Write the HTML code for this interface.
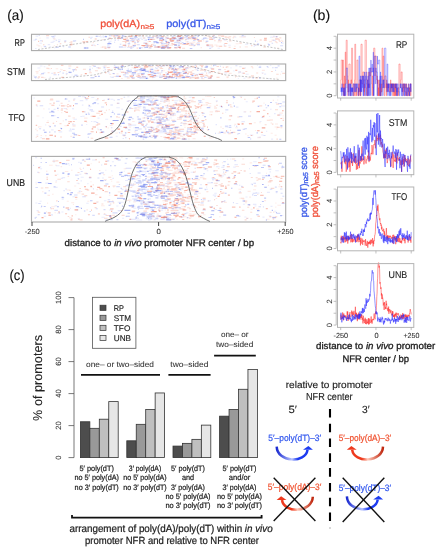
<!DOCTYPE html>
<html><head><meta charset="utf-8"><style>html,body{margin:0;padding:0;background:#fff;}svg{display:block;font-family:"Liberation Sans",sans-serif;text-rendering:geometricPrecision;filter:blur(0.25px);}</style></head><body>
<svg width="441" height="550" viewBox="0 0 441 550" font-family="Liberation Sans, sans-serif">
<rect width="441" height="550" fill="#fff"/>
<text x="7.30" y="19.50" font-size="14.4" fill="#111" stroke="#111" stroke-width="0.1" textLength="16.50" lengthAdjust="spacingAndGlyphs" >(a)</text>
<text x="312.90" y="19.70" font-size="14.4" fill="#111" stroke="#111" stroke-width="0.1" textLength="17.30" lengthAdjust="spacingAndGlyphs" >(b)</text>
<text x="9.50" y="279.50" font-size="14.4" fill="#111" stroke="#111" stroke-width="0.1" textLength="15.20" lengthAdjust="spacingAndGlyphs" >(c)</text>
<text x="14.60" y="45.90" font-size="9.9" fill="#222" stroke="#222" stroke-width="0.2" textLength="10.20" lengthAdjust="spacingAndGlyphs" >RP</text>
<text x="7.00" y="75.00" font-size="9.9" fill="#222" stroke="#222" stroke-width="0.2" textLength="18.00" lengthAdjust="spacingAndGlyphs" >STM</text>
<text x="8.60" y="120.70" font-size="9.9" fill="#222" stroke="#222" stroke-width="0.2" textLength="16.40" lengthAdjust="spacingAndGlyphs" >TFO</text>
<text x="6.60" y="186.40" font-size="9.9" fill="#222" stroke="#222" stroke-width="0.2" textLength="18.40" lengthAdjust="spacingAndGlyphs" >UNB</text>
<text x="100.20" y="26.80" font-size="10.2" fill="#f0503a" stroke="#f0503a" stroke-width="0.29" textLength="39.80" lengthAdjust="spacingAndGlyphs" >poly(dA)</text>
<text x="140.60" y="28.60" font-size="7.0" fill="#f0503a" stroke="#f0503a" stroke-width="0.24" textLength="13.60" lengthAdjust="spacingAndGlyphs" >n≥5</text>
<text x="166.20" y="26.80" font-size="10.2" fill="#3a5ae8" stroke="#3a5ae8" stroke-width="0.29" textLength="40.10" lengthAdjust="spacingAndGlyphs" >poly(dT)</text>
<text x="206.60" y="28.60" font-size="7.0" fill="#3a5ae8" stroke="#3a5ae8" stroke-width="0.24" textLength="13.60" lengthAdjust="spacingAndGlyphs" >n≥5</text>
<path d="M239.4 36.9h2M176.9 40.6h2.5M172.7 44.4h3M123.0 38.6h3M177.6 41.4h1M268.9 41.6h3M185.4 41.9h3M272.1 37.3h2.5M191.2 36.1h2M186.1 36.2h2.5M69.2 42.5h3M222.2 39.3h2M191.7 43.5h2M234.2 46.2h1.5M271.4 40.1h2.5M83.6 43.6h1.5M152.5 44.0h1M148.4 45.2h2M213.8 37.6h1M196.9 40.0h1M37.9 45.9h2.5M39.5 38.1h1M165.6 42.3h1M143.4 43.4h3M242.7 37.1h3M130.7 39.5h2.5M100.5 47.3h2.5M207.7 36.5h1M99.8 35.5h1M233.1 36.4h2.5M36.3 45.0h2M133.8 39.9h1M275.9 42.6h2M41.1 47.0h1M108.6 38.4h3M216.1 46.1h3M172.2 43.6h2.5M219.7 42.0h1.5M195.5 44.5h1.5M277.2 47.8h1.5M281.2 40.4h1M254.4 44.7h2M203.0 40.7h1M242.4 36.9h2M264.0 45.4h1.5M235.7 43.7h3M154.0 47.4h3M169.6 38.5h1M124.6 46.1h2M126.8 39.8h2M244.8 46.9h3M53.8 45.6h1M228.2 38.4h2.5M207.3 36.8h2M129.6 38.3h1.5M102.2 39.5h2M151.4 38.4h1M217.4 42.0h2M256.8 41.8h1M136.4 44.7h2M224.5 40.0h2.5M116.1 35.8h2M149.3 48.0h1.5M200.5 47.6h1.5M164.7 36.6h1.5M189.5 37.3h2.5M138.6 40.6h1.5M193.4 39.5h4M159.7 46.0h2.5M146.0 46.4h3M195.8 43.6h4M192.3 42.1h3M214.3 45.0h3M147.3 41.8h1.5M204.5 35.8h4M184.3 43.8h2M166.7 43.5h3M169.0 45.2h4M157.6 37.2h1.5M159.1 47.5h1.5M179.9 43.7h2.5M126.3 36.6h4M197.7 39.5h2" stroke="#ee5a3c" stroke-opacity="0.13" stroke-width="1.1"/>
<path d="M113.5 37.3h2M41.9 41.1h1M92.7 42.6h1M190.3 43.1h1.5M56.9 44.8h1M70.5 41.8h2M185.1 39.5h1.5M205.3 42.2h2M278.9 41.2h2M152.7 39.4h2.5M152.3 44.5h1M279.3 37.9h2M239.5 47.0h1.5M250.9 45.6h1.5M226.7 37.3h2.5M228.7 36.7h2.5M159.5 42.8h2.5M263.4 47.2h2.5M228.6 47.2h2M253.9 37.5h1M171.1 41.2h2M160.7 36.2h3M232.6 37.7h1.5M264.4 38.9h2M275.0 38.8h2M275.3 39.4h2.5M182.3 44.5h2M53.5 39.0h2M94.6 45.6h1M69.9 44.9h2.5M239.3 43.1h2.5M154.9 35.3h3M91.2 45.4h1.5M275.8 36.6h1.5M228.9 41.0h2.5M171.9 40.5h2.5M281.8 41.3h1.5M118.1 36.5h2M64.0 42.0h2M274.8 41.8h2M275.8 38.6h3M88.5 37.3h1.5M156.5 38.0h1.5M59.8 43.6h1.5M46.1 35.6h3M209.1 45.0h4M165.4 37.8h1.5M145.8 44.1h2.5M218.0 40.8h4M194.2 45.2h1.5M188.8 45.2h4M127.8 46.5h1.5M164.8 46.1h3M111.0 35.8h2.5M182.1 48.2h3M129.7 46.8h2.5M193.2 38.2h2.5M139.4 35.5h1.5M185.7 43.8h3M177.0 40.8h2.5M154.4 46.8h4M166.0 45.0h3M137.1 41.4h2M211.5 46.3h2M214.1 40.7h1.5M189.4 36.9h4M218.0 35.8h3M137.3 35.6h1.5M180.2 43.8h1.5M147.4 45.8h4M161.6 45.4h3M223.9 46.1h2.5M196.3 38.1h1.5M154.7 36.8h2M132.2 45.2h2M178.6 38.3h2M169.3 38.5h3M178.2 46.9h3M134.1 43.9h2M142.7 38.0h2.5M142.7 46.1h2.5M191.1 35.9h3M130.8 35.4h1.5M173.6 44.5h2.5M188.7 38.8h4M102.1 47.0h4M148.6 47.0h3M122.3 41.5h2.5M125.5 38.1h2.5M169.2 39.9h2M172.6 44.5h4M136.6 48.1h1.5" stroke="#ee5a3c" stroke-opacity="0.22" stroke-width="1.1"/>
<path d="M178.3 47.4h2M104.5 48.3h2M38.1 41.4h1M224.7 37.0h2M70.4 44.1h2M117.6 36.0h3M259.7 40.0h2M82.5 41.9h3M151.0 44.9h1M94.7 39.0h2M43.3 44.7h1M233.6 48.5h2M278.3 39.9h1.5M260.2 45.3h1.5M224.4 43.5h3M148.8 41.5h2M136.6 40.3h1M128.3 45.2h1M194.0 39.3h2.5M107.6 47.8h2.5M264.0 38.3h3M188.0 37.6h1.5M113.1 36.0h2M169.3 47.5h2M109.4 38.4h1.5M179.1 40.4h1.5M219.2 46.2h3M209.2 37.9h3M142.5 35.8h1.5M157.4 47.1h1.5M167.1 38.4h2M86.0 41.6h2M174.4 47.9h3M209.2 39.5h4M221.2 36.1h3M171.3 43.8h1.5M161.0 47.6h2.5M131.8 41.6h2.5M183.9 44.3h4M152.3 36.7h1.5M164.6 45.9h2.5M263.8 40.1h3M182.4 37.1h1.5M212.7 35.3h2M145.2 43.6h2M192.7 38.6h2.5M177.7 35.5h4M173.3 38.4h2M124.9 42.7h1.5M124.8 41.1h4M161.4 36.8h2.5" stroke="#ee5a3c" stroke-opacity="0.34" stroke-width="1.1"/>
<path d="M167.1 48.0h4M171.7 37.9h4M149.9 39.5h2.5M123.3 39.5h3M206.4 45.1h2.5M179.6 38.7h4M169.9 40.9h4M159.2 40.2h2.5M166.1 42.2h3M162.2 47.8h4M117.1 38.2h4M197.9 41.0h4M141.4 45.5h4M177.1 36.5h4M179.3 47.9h1.5M157.9 46.9h2.5M162.4 39.5h1.5M134.8 35.5h2.5M161.1 40.7h2M122.7 45.2h3M187.4 43.7h2M129.7 36.2h2.5M150.2 46.2h2.5M169.6 39.1h2" stroke="#ee5a3c" stroke-opacity="0.5" stroke-width="1.1"/>
<path d="M50.6 42.4h3M178.0 43.8h2M227.0 41.5h1M207.4 38.5h1M163.9 46.9h2M160.6 37.5h3M47.7 44.6h2.5M103.7 40.4h2M132.1 47.5h2M52.7 41.3h2.5M253.5 46.2h1.5M153.8 43.1h1M103.0 37.2h1M132.1 40.5h2.5M58.1 39.9h2.5M206.7 38.8h1M165.8 45.7h2.5M144.4 47.8h1M241.3 36.9h1M228.2 45.3h2.5M54.2 47.9h1M39.4 43.2h2.5M234.3 37.2h2M164.3 47.7h1.5M241.2 36.1h2.5M139.7 38.1h2.5M267.6 43.9h1.5M117.3 37.9h2.5M100.2 37.0h2.5M245.1 44.3h3M49.2 46.8h2M165.4 38.0h3M157.6 37.7h2M161.2 38.6h2.5M196.8 42.6h3M140.3 36.0h2M250.3 44.2h1M33.4 40.1h2.5M98.6 36.5h2M179.3 40.5h1M43.5 46.4h2.5M53.8 35.9h2M217.6 48.3h2.5M244.1 36.3h2M51.9 37.3h3M35.6 36.1h2.5M270.9 37.1h1.5M242.7 35.3h1.5M210.9 47.3h2M95.9 36.2h3M107.0 45.1h2.5M134.1 38.5h2M193.4 36.3h2.5M170.2 41.3h2M157.1 42.9h2M132.5 41.2h1M130.5 47.6h2.5M189.2 42.3h1M46.3 37.9h2.5M52.8 38.3h1.5M206.6 44.9h1.5M269.9 37.2h1.5M134.0 39.7h4M176.2 41.1h1.5M126.9 47.5h4M171.7 35.8h4M159.1 39.7h1.5M154.0 36.2h4M175.5 36.4h1.5M109.6 41.2h2M143.8 40.3h2M181.1 39.6h1.5M186.9 38.4h4M176.2 47.5h4M97.6 40.3h2M143.1 38.0h2.5M154.5 47.3h4M154.4 47.2h2M137.1 41.1h1.5M184.8 40.3h1.5M150.9 39.5h2.5M167.1 45.7h1.5M123.0 47.2h3M121.3 38.0h2M159.3 38.8h2M91.8 45.1h3M160.5 42.4h3M90.4 37.2h2.5M164.6 39.3h2M179.5 41.5h2M176.7 46.7h1.5M131.2 46.2h4M206.7 46.1h4M148.5 38.7h2" stroke="#4a60e8" stroke-opacity="0.13" stroke-width="1.1"/>
<path d="M44.2 46.7h2M187.4 41.9h1M273.2 36.3h1.5M117.6 40.0h1.5M209.2 48.4h2M146.8 46.9h1M174.3 42.4h3M186.1 37.3h1.5M271.6 43.3h1.5M63.2 46.6h1M280.1 45.8h3M58.1 41.6h2M223.6 39.6h2M114.1 42.2h1M87.4 48.0h1M55.6 40.2h1.5M128.7 42.2h1M134.1 42.4h2M35.4 48.5h1M59.1 46.2h2M241.9 35.5h1.5M223.7 44.9h1M272.6 40.3h3M201.6 39.2h2M105.0 36.3h1.5M51.2 36.5h3M157.1 47.0h2.5M282.4 43.1h1M102.7 36.0h1M191.4 37.3h3M141.6 39.5h1M212.5 36.0h2.5M75.2 40.8h1M254.5 45.3h2M35.1 39.3h2M39.8 40.8h2.5M203.3 37.9h2M90.2 38.2h1.5M106.7 47.1h4M196.3 35.7h2M211.7 38.7h3M137.4 44.8h2.5M153.2 45.4h2.5M108.9 35.6h1.5M122.0 36.4h4M130.1 48.3h2M119.8 44.3h1.5M177.3 36.9h3M133.9 37.8h4M176.2 42.6h4M167.7 44.5h1.5M148.6 48.0h3M129.5 40.8h2.5M163.8 43.6h3M179.9 38.3h2M183.6 37.7h2.5M110.0 35.8h1.5M181.6 42.6h2M143.5 43.0h2.5M159.4 37.7h2M122.3 35.8h2M193.2 45.6h2M213.6 37.5h2.5M185.9 39.0h3M174.1 47.5h2M160.5 47.8h1.5M114.5 40.1h1.5M193.0 40.5h2.5M145.7 43.0h1.5M190.6 44.1h2M160.9 37.3h2.5M159.4 35.6h2.5M145.5 40.1h1.5M138.7 47.8h4M131.5 40.0h2.5M154.4 45.7h1.5M191.2 44.8h3M108.2 42.3h2M108.1 38.2h2M175.2 38.4h2M143.8 47.4h2M157.8 35.9h2M124.8 45.1h1.5M166.1 38.0h2.5M147.9 39.6h2" stroke="#4a60e8" stroke-opacity="0.22" stroke-width="1.1"/>
<path d="M137.4 42.5h1M83.8 48.0h2M97.3 44.5h1M254.9 41.1h1M257.1 44.1h2M205.8 41.3h2.5M159.5 38.6h2.5M68.3 47.0h2.5M72.9 41.0h2.5M275.6 36.7h2M83.0 39.4h1M147.5 37.4h2.5M121.7 35.3h1.5M197.0 44.8h3M197.5 36.2h1.5M95.6 36.3h2M281.0 42.6h1M38.7 35.3h1M145.3 45.3h3M55.7 47.2h3M64.3 41.0h2M268.1 44.9h2M218.4 39.7h2M176.3 40.0h4M205.1 38.1h1.5M114.3 35.7h4M174.1 38.9h1.5M160.2 38.6h3M149.8 37.8h4M133.0 45.6h3M168.0 42.6h2M165.8 47.0h3M137.9 39.1h1.5M171.8 37.0h2M126.3 40.4h2.5M129.8 38.4h4M165.1 41.0h1.5M189.8 48.5h2.5M160.9 48.4h4M118.9 47.0h4M156.4 37.7h2M203.1 38.7h1.5M161.0 43.8h2.5M127.7 43.8h2.5M178.5 38.8h2.5M145.5 47.4h2.5M166.7 47.7h3M171.6 39.1h3" stroke="#4a60e8" stroke-opacity="0.34" stroke-width="1.1"/>
<path d="M84.3 48.0h4M153.4 41.9h4M174.2 45.1h3M104.6 36.7h2.5M183.3 43.5h2.5M120.6 38.0h2.5M180.2 37.9h2.5M156.1 42.6h2.5M165.6 41.8h1.5M185.4 36.0h2.5M107.4 43.6h4M162.9 40.0h1.5M134.4 36.7h2.5M178.2 45.3h1.5M197.2 39.6h1.5M139.0 48.3h2M147.8 39.4h1.5M161.6 46.8h3M192.1 38.0h4" stroke="#4a60e8" stroke-opacity="0.5" stroke-width="1.1"/>
<rect x="31.5" y="34.3" width="254.2" height="16.3" fill="none" stroke="#ababab" stroke-width="1.1"/>
<path d="M37.4 77.6h2.5M120.2 66.3h2M168.0 68.1h2.5M236.4 76.5h1.5M226.8 77.7h1M262.2 73.5h1M187.9 68.4h1M60.8 69.7h2M184.1 69.7h3M280.0 74.2h1M136.8 74.1h2.5M99.7 73.6h1.5M137.1 75.7h2.5M113.5 76.5h2.5M157.8 73.8h3M75.2 69.3h1M239.2 72.0h2M190.4 72.1h2M158.8 67.6h3M120.9 78.5h2M205.6 65.1h1M109.2 74.4h2M261.9 70.4h3M179.2 74.1h2M250.5 77.2h2M176.2 70.6h1M68.9 72.1h1M238.4 73.3h1M74.9 68.6h1M247.5 77.9h2.5M43.5 77.7h2M116.5 73.9h2M138.2 77.4h1M91.8 65.5h2.5M117.9 67.1h1.5M55.7 68.7h2.5M171.4 71.4h1.5M106.9 71.5h1.5M89.4 71.2h1.5M179.5 70.0h1M133.6 71.9h2M39.7 74.8h2M206.3 75.6h2M112.8 74.0h2M210.8 65.6h1M257.9 76.9h1M139.7 72.0h1.5M168.6 68.4h1M74.5 69.7h1.5M65.9 74.6h1M35.6 71.6h3M47.6 68.8h3M60.2 69.2h1M38.8 70.4h1M218.2 69.4h2.5M194.5 69.8h2M191.8 70.5h2M161.8 70.8h3M276.3 78.1h1M66.1 71.8h1M147.6 74.3h1M133.7 65.6h2M36.3 73.1h2M139.1 77.1h1M233.7 75.0h2M224.0 69.5h2M131.5 67.7h4M185.2 75.8h2.5M164.1 76.9h3M152.8 72.8h2M196.5 77.0h2.5M179.7 76.9h4M202.4 75.2h4M138.9 77.2h2.5M155.6 65.2h4M217.9 72.1h2.5M163.2 76.6h2M139.5 71.8h2.5M104.2 65.9h2.5M201.5 78.6h3M188.2 67.8h3M193.3 67.1h4M109.2 69.9h2M159.7 77.5h3M136.2 75.2h2M228.7 73.4h3M151.8 77.7h1.5M154.6 70.3h3M170.2 67.9h2M191.8 73.5h2M141.7 70.2h1.5" stroke="#ee5a3c" stroke-opacity="0.13" stroke-width="1.1"/>
<path d="M95.2 76.1h1M179.1 75.4h1M63.0 70.5h2.5M206.1 73.1h1M94.9 70.7h3M123.7 72.2h2M235.0 77.0h1M252.3 67.9h1M216.5 66.5h2.5M132.0 78.5h2.5M145.9 65.1h2.5M205.5 75.2h2M47.6 72.7h2M46.2 68.2h2.5M38.1 76.8h2M75.9 69.9h1M126.8 78.0h3M250.8 66.7h2M110.3 70.3h1M80.7 74.8h1.5M226.4 77.0h2.5M190.0 77.8h1M276.2 74.3h2.5M282.2 73.4h3M159.8 74.2h1M82.9 69.2h3M106.6 67.5h3M183.3 73.5h2.5M245.3 71.5h2M68.3 66.0h3M48.2 65.1h2M270.9 71.5h2M97.8 68.1h3M89.2 72.8h2.5M216.5 77.4h3M189.3 78.1h2M226.4 66.9h2M147.5 66.6h1.5M57.4 72.5h2M41.0 77.4h2.5M51.0 68.5h1M250.9 75.9h3M130.9 76.9h2M256.2 73.0h2M181.5 69.6h4M174.3 69.9h4M147.7 74.5h2.5M202.5 69.9h4M147.5 74.7h1.5M209.7 77.0h1.5M166.2 77.1h3M137.9 75.5h2M175.9 73.0h2.5M176.9 68.8h2.5M166.4 65.8h3M162.3 65.4h3M130.0 76.7h2M192.2 67.1h1.5M175.7 72.5h2M127.2 72.2h3M190.8 66.4h3M218.5 73.5h2.5M207.2 76.7h2.5M199.6 65.4h4M173.1 69.8h1.5M167.4 71.5h1.5M144.5 66.9h3M156.8 71.0h2M149.3 66.8h4M156.6 65.9h1.5M138.0 76.4h3M162.6 74.6h2.5M183.3 68.6h2.5M195.3 75.1h2.5M199.9 70.2h4M124.6 73.4h1.5M134.9 71.2h2.5M191.6 77.6h3M141.8 76.7h1.5M188.1 72.1h4M209.3 72.4h2M154.3 71.0h4M160.7 66.7h1.5M160.2 68.5h3M157.9 65.9h1.5M170.1 72.8h1.5M135.9 76.5h4M185.4 67.5h2.5M143.5 77.0h2.5" stroke="#ee5a3c" stroke-opacity="0.22" stroke-width="1.1"/>
<path d="M163.3 74.6h2M113.7 67.7h2M53.6 73.0h2M242.6 73.3h2.5M149.8 69.2h1M225.7 67.2h1M255.5 78.0h2M61.3 77.4h2.5M76.2 67.2h2M222.8 67.3h1M104.9 72.6h1.5M195.9 66.1h1M242.1 68.4h2.5M107.4 69.7h2.5M60.9 65.3h2.5M138.1 67.0h2.5M143.9 66.9h4M208.3 78.1h3M173.9 76.1h3M143.3 68.7h2.5M224.6 71.6h4M171.1 69.3h2.5M210.7 71.5h4M194.4 75.6h1.5M120.9 72.2h3M221.5 74.0h1.5M176.8 76.6h4M167.0 73.6h2M169.0 67.7h1.5M163.1 78.5h2.5M177.3 72.6h2.5M200.2 76.2h4M162.8 76.2h4M141.0 74.6h2.5M201.0 66.8h2M157.2 70.2h2" stroke="#ee5a3c" stroke-opacity="0.34" stroke-width="1.1"/>
<path d="M169.0 76.9h4M129.5 76.0h4M148.4 74.8h3M194.8 78.2h1.5M119.0 76.4h2M184.6 72.4h2.5M121.8 65.3h1.5M153.5 75.6h2.5M169.2 76.4h1.5M190.2 74.3h2.5M84.8 73.6h2M210.2 77.3h1.5M235.3 70.3h2M172.2 74.2h3M185.2 77.3h4M194.7 78.0h4M173.6 74.3h4M173.7 73.7h1.5M198.9 74.5h4M174.9 68.8h1.5M210.6 75.9h2M149.6 71.4h1.5M149.6 76.6h4M211.2 69.0h3M171.8 74.9h1.5M169.9 72.1h3M143.4 65.0h3M227.3 71.1h2M187.2 73.7h1.5M134.0 67.4h4M179.4 75.2h4M168.0 72.4h4M183.5 69.6h1.5M182.2 66.8h2" stroke="#ee5a3c" stroke-opacity="0.5" stroke-width="1.1"/>
<path d="M43.8 66.7h1.5M69.3 72.8h2.5M131.5 77.8h2M117.2 68.3h1M113.8 67.0h2.5M88.9 70.7h2M142.6 72.0h3M261.6 72.9h2M195.2 67.7h1.5M147.8 72.5h2M73.1 77.9h1M171.8 71.7h3M201.5 73.4h1M224.1 73.0h3M127.5 71.2h1.5M130.2 72.6h3M233.4 70.9h1M178.0 66.2h2M44.4 72.7h1M107.5 72.3h2M167.2 78.6h2.5M130.0 69.9h2M163.9 66.3h1M237.8 78.5h1M39.8 66.0h2.5M195.2 74.3h1.5M119.8 71.1h1M37.4 68.0h3M178.3 78.1h3M108.5 73.2h1M201.4 73.0h2M109.9 76.9h1M268.2 78.6h1M168.3 68.7h1M49.5 77.4h1.5M89.2 66.7h2M103.1 70.5h1M266.9 67.4h2M202.5 74.0h1M256.9 65.3h1M259.2 66.3h2M184.8 70.9h3M71.6 75.0h1M264.1 74.1h2M230.5 67.9h1M102.8 66.2h2.5M143.2 69.6h3M155.0 67.6h1M204.2 71.6h2M92.0 68.3h1M116.0 76.1h3M240.5 66.6h1M35.2 78.5h1M154.7 75.7h2M189.6 77.7h2.5M42.8 72.7h2M138.3 74.9h1.5M33.5 75.9h1M174.5 71.4h3M184.9 69.0h2M165.1 72.7h2.5M169.6 66.5h2M209.9 68.1h2.5M245.6 74.2h3M239.1 66.7h1.5M160.9 72.1h1M96.2 67.6h3M37.8 78.4h1M171.2 68.9h3M241.7 73.0h2M167.2 74.4h1.5M269.9 65.2h1.5M281.3 71.6h1M51.2 73.4h2M243.4 78.2h2M122.8 72.2h1M166.0 74.9h1.5M133.6 68.4h2.5M159.1 75.8h1.5M169.6 67.8h4M187.2 67.0h4M153.1 74.0h3M172.7 72.2h3M158.5 76.1h4M141.7 70.1h2.5M140.0 68.8h4M74.6 75.8h4M197.5 78.0h2M155.8 75.6h1.5M137.5 73.5h2.5M139.6 78.5h1.5M150.2 72.3h3M141.6 74.1h3M155.7 76.4h2M196.7 70.0h1.5M134.7 74.0h1.5M160.4 72.6h2M151.3 69.2h3M176.0 75.6h1.5M207.8 72.9h3M157.1 72.7h3M144.5 78.5h4M173.9 67.7h1.5M171.8 65.7h1.5M143.5 68.4h1.5" stroke="#4a60e8" stroke-opacity="0.13" stroke-width="1.1"/>
<path d="M73.6 76.2h1M211.5 76.5h1M141.0 77.9h3M116.0 67.6h1M275.1 70.4h1M161.9 76.3h2.5M238.0 72.0h3M135.8 66.4h3M104.6 69.8h1.5M127.7 69.1h1M196.6 69.0h1M76.3 75.5h1M68.5 68.2h2M111.3 77.2h2.5M277.6 65.9h2M173.0 66.6h1M175.2 74.7h2M266.6 66.5h1.5M220.0 66.2h1M65.8 73.7h2M53.5 74.8h3M59.7 71.6h1M34.6 77.5h1M124.7 72.5h3M235.4 65.8h2M244.7 68.0h1M205.5 67.0h2.5M274.7 67.6h3M173.4 77.5h1.5M74.5 75.1h3M122.9 74.9h3M120.4 66.9h3M218.2 69.6h3M131.5 74.1h3M160.3 77.2h2M140.1 70.4h4M169.9 77.6h2.5M137.2 77.5h2.5M146.3 77.2h1.5M155.7 68.2h2M140.8 68.3h2.5M159.7 66.0h4M113.9 65.1h1.5M129.1 65.4h1.5M157.0 73.3h1.5M115.7 76.4h4M137.0 69.7h4M164.4 78.3h2.5M193.2 73.9h1.5M181.5 67.0h2.5M178.8 67.8h2M167.8 77.3h2M165.3 65.4h1.5M204.1 77.4h2.5M124.5 76.7h4M197.2 68.3h2M149.9 65.1h3M139.5 77.7h2.5M159.0 77.4h2M126.1 70.6h2M152.4 77.2h3M207.7 78.2h4M173.2 66.0h3M200.8 77.9h2M149.9 71.2h4M181.1 77.0h4M185.5 68.3h2.5M196.6 74.9h1.5M197.1 70.5h1.5M125.6 73.8h3M134.3 70.2h4M168.1 69.8h2M175.4 74.0h2M198.6 74.0h3M144.4 77.9h2.5M173.0 70.6h2M121.4 66.2h1.5M148.1 65.6h3M157.5 66.8h1.5M130.9 77.7h4M141.8 76.5h4M145.8 78.4h1.5M120.7 66.2h2.5" stroke="#4a60e8" stroke-opacity="0.22" stroke-width="1.1"/>
<path d="M97.9 76.4h2M41.1 73.7h3M62.6 73.1h1M93.4 66.2h2.5M194.7 65.1h1M272.4 67.8h1M252.6 78.1h1M133.0 75.4h1M34.4 77.0h2.5M129.4 71.4h2.5M72.3 69.8h3M94.7 76.5h2M182.3 71.3h2M72.9 71.1h1M58.1 74.8h1M259.0 77.9h1.5M204.6 67.2h3M213.4 65.0h3M161.3 70.7h1.5M258.7 67.2h2.5M171.3 77.8h3M195.0 67.6h1M213.1 65.6h1M89.0 69.3h2M205.6 66.3h2.5M121.0 66.3h3M166.3 76.9h4M144.9 71.4h4M182.8 77.1h2.5M150.6 69.4h2.5M114.8 67.4h4M177.7 73.9h2.5M143.9 69.9h1.5M150.4 72.6h3M90.4 77.7h4M152.8 75.5h1.5M139.3 69.6h2.5M178.5 72.8h3M172.5 66.2h1.5M118.1 69.4h3M140.3 68.7h2M140.7 73.6h4M169.0 65.1h1.5M112.6 73.5h2M172.2 68.6h1.5M174.5 69.5h2.5M186.3 76.5h4M103.5 67.7h2" stroke="#4a60e8" stroke-opacity="0.34" stroke-width="1.1"/>
<path d="M146.0 78.5h1.5M181.8 77.8h3M151.4 75.0h1.5M191.5 75.6h2M127.5 71.0h2M153.6 73.3h3M142.8 69.8h2.5M173.5 72.3h3M68.5 72.2h3M164.4 78.2h2.5M175.7 78.1h1.5M132.1 72.8h4M166.6 74.2h2M182.8 73.3h4M169.7 66.1h2M179.5 66.8h4M176.7 75.2h1.5M141.5 70.4h4M121.5 69.1h1.5" stroke="#4a60e8" stroke-opacity="0.5" stroke-width="1.1"/>
<rect x="31.5" y="64.0" width="254.2" height="16.6" fill="none" stroke="#ababab" stroke-width="1.1"/>
<path d="M255.1 130.5h1M138.8 110.8h1M85.4 98.5h3M262.9 115.6h2M143.8 127.7h2.5M152.9 132.4h3M103.9 112.6h2M88.5 104.6h1M223.3 133.1h2.5M193.0 116.6h2.5M99.1 115.4h2M159.9 117.1h1.5M149.7 137.1h1M36.4 116.0h3M282.6 115.9h1M276.4 128.9h1M254.3 98.7h3M230.2 107.1h2.5M274.6 127.0h3.5M274.6 135.3h2M234.4 124.4h1.5M257.4 137.8h3M202.0 99.4h2.5M277.2 100.0h1M64.4 105.8h3.5M253.8 122.8h2M208.9 137.9h3.5M245.1 134.0h1.5M206.6 96.4h3M76.2 135.1h2.5M118.0 117.4h2M128.9 127.2h2M70.3 136.4h2M48.3 125.8h2M40.5 135.5h1.5M209.6 111.9h3.5M216.1 101.8h1M35.1 129.2h1.5M215.0 111.8h3M57.6 110.3h1M180.3 114.9h2.5M72.0 123.7h2M84.4 97.2h1M160.3 136.5h2M183.7 106.3h1M160.9 116.4h1M183.4 135.3h1.5M220.0 127.0h2M181.9 138.4h2.5M38.0 126.8h3.5M156.8 125.9h2.5M205.3 96.4h1M243.8 111.8h2.5M281.1 105.3h1M270.7 133.3h2M208.9 96.4h2.5M58.2 108.2h1M86.4 122.2h1M259.3 122.7h1.5M263.5 103.1h1M127.5 101.0h2M84.0 118.1h3.5M202.2 127.0h2.5M161.2 114.7h2.5M168.5 103.2h1.5M72.5 117.9h2.5M116.4 129.3h3M145.7 117.9h3M97.5 129.6h1.5M209.2 114.7h2M179.4 117.7h1M159.3 110.7h1M162.8 128.5h2M160.3 103.5h1M173.3 115.5h2.5M64.3 125.8h3M177.2 138.4h3.5M134.2 131.9h2M61.3 112.6h1M275.0 124.0h3M187.5 124.7h3.5M43.4 108.9h1M115.4 133.0h2.5M279.4 113.1h3.5M62.8 120.9h1M160.1 101.5h1.5M222.3 128.5h1.5M73.7 135.8h1M109.7 125.5h3M259.1 137.2h1.5M38.1 127.3h1M107.7 127.9h1M183.3 138.1h1M235.3 127.8h2.5M65.8 109.4h2M207.8 103.5h3.5M190.2 121.9h2M47.5 120.9h1M281.5 118.2h2.5M146.5 124.0h1.5M160.1 109.4h1.5M163.3 127.8h6M179.0 117.9h3M175.8 109.2h5M183.8 121.5h5M195.7 112.4h1.5M178.1 104.6h2.5M170.6 114.2h1.5M183.5 98.2h3M164.4 113.8h6M153.2 99.0h4M151.6 108.2h2M164.7 124.0h2M184.2 127.3h1.5M167.6 136.9h2M200.9 105.0h5M186.9 107.4h5M167.7 112.4h5M153.9 112.1h2M178.0 127.2h1.5M202.2 132.9h2.5M177.8 133.4h4M175.1 126.9h4M162.3 108.6h2M180.2 136.4h3M172.2 139.3h5M181.1 103.7h2.5M169.9 115.8h4M132.2 121.5h2.5M170.4 107.5h2M167.6 112.4h4M160.9 97.5h4M196.3 122.4h6M134.6 107.9h6M183.7 99.0h2M171.2 131.7h3M208.7 106.1h2.5M170.2 136.0h6M183.5 125.0h2M166.7 112.8h1.5M177.6 135.3h4M171.4 131.6h5M174.8 130.8h6M179.7 115.5h3M177.1 117.5h6M164.1 115.3h4M150.4 135.9h4M202.2 115.4h1.5M170.2 96.6h4M168.9 113.0h6M166.9 104.7h1.5M185.2 111.3h5M189.5 100.4h4M167.0 137.5h3M186.1 132.3h3M179.3 101.4h4M192.6 138.6h3M194.9 108.0h4" stroke="#ee5a3c" stroke-opacity="0.13" stroke-width="1.1"/>
<path d="M229.6 132.8h2.5M262.9 110.4h2.5M272.8 100.2h1M108.5 99.0h1.5M96.3 113.3h3.5M200.3 108.2h1M244.1 99.3h1.5M128.3 124.4h3M266.8 120.2h3.5M60.0 137.0h2M189.5 131.3h1M142.3 102.3h2.5M108.7 109.8h1M267.5 113.6h1M35.7 137.2h1M174.8 129.5h2M66.9 106.6h2M45.4 135.7h1M149.0 110.2h1M168.2 113.5h2M111.2 131.3h2M214.1 108.0h3M232.3 132.4h3M73.1 100.1h1.5M56.1 121.5h1M230.5 106.2h1M67.1 104.5h2M59.5 123.6h2M46.4 122.5h2.5M105.9 110.2h1M95.7 125.1h2.5M41.9 138.6h3M147.1 120.0h1M131.2 108.5h2M280.4 127.7h2M228.2 133.8h2.5M50.2 99.1h3M217.4 111.4h2.5M182.6 139.3h1.5M264.6 124.7h2M249.8 111.8h1.5M276.7 127.4h3M154.7 96.3h2.5M68.1 116.1h2.5M150.9 108.2h3M194.0 116.3h3M270.7 123.0h1M36.7 130.8h1M123.3 135.6h2M72.6 126.0h3M141.7 101.5h1.5M269.4 120.0h3.5M225.9 102.6h2M60.6 103.2h2M90.7 138.3h2.5M228.5 119.8h2.5M247.5 135.7h1M116.0 116.9h2M155.6 132.0h2.5M120.5 133.0h2M214.9 111.0h3.5M271.9 124.1h1.5M116.7 103.3h2M90.6 116.2h2.5M171.1 113.7h3M152.8 136.4h1.5M168.4 133.5h3M137.7 105.3h1M275.0 109.7h3M161.4 111.3h3.5M259.2 105.9h3M69.9 121.6h2M172.7 114.0h1M214.5 106.4h1M49.8 99.9h3.5M230.0 130.3h1M60.7 110.1h1M237.3 117.0h2M216.0 105.2h2M276.2 104.1h3M120.6 98.8h2M61.0 110.1h2M148.1 122.1h1.5M61.0 108.7h2M169.1 130.8h3M49.4 103.7h2M156.0 120.0h1.5M99.4 132.7h2M165.8 133.5h1M185.7 133.4h2.5M218.9 132.1h1M229.4 104.7h2M153.2 112.5h1M102.0 100.5h2.5M142.5 118.0h2.5M36.7 136.4h1.5M205.5 102.8h3M206.9 129.9h2M85.3 98.3h3.5M190.8 101.7h5M187.2 127.5h3M168.9 132.2h3M188.3 100.9h1.5M166.0 100.9h4M171.2 120.3h4M151.9 104.5h6M146.8 113.6h1.5M165.5 116.3h1.5M183.5 96.7h1.5M148.6 131.3h4M195.0 129.9h4M165.8 112.2h4M152.9 129.8h6M173.6 137.4h2M187.7 121.5h2M185.2 113.3h2M174.6 132.3h4M172.4 127.8h4M137.5 98.2h3M155.2 135.9h3M141.4 121.1h2.5M180.8 122.8h1.5M189.0 120.7h2.5M176.6 138.0h3M158.8 119.2h1.5M134.4 110.0h5M148.6 112.7h1.5M190.5 129.9h1.5M173.2 132.5h6M179.8 109.3h5M171.8 100.4h2M194.0 132.9h4M166.4 119.6h1.5M158.0 108.4h5M181.0 110.9h6M184.2 105.5h6M183.2 123.8h4M179.1 129.4h5M192.2 112.4h3M160.0 108.6h2.5M163.5 102.2h2M160.7 114.1h2.5M193.0 128.7h5M164.7 105.8h3M163.9 100.8h3M205.0 119.6h1.5M186.4 105.1h1.5M174.7 130.0h5M167.0 99.1h2.5M159.3 120.1h2.5M175.5 104.0h2M155.5 111.2h4M151.4 113.2h4M151.1 109.2h4M160.5 96.2h6M180.7 105.1h2.5M150.8 127.8h2.5M190.8 134.4h4M182.6 115.5h4M176.8 119.3h5M158.8 124.9h5M177.7 103.7h3M164.7 133.4h2.5M206.2 104.9h1.5" stroke="#ee5a3c" stroke-opacity="0.22" stroke-width="1.1"/>
<path d="M260.9 132.4h2M194.6 105.6h1M211.2 114.8h1M192.9 122.9h2M240.7 97.5h1M197.9 104.0h1.5M124.1 118.8h1M250.8 135.5h1.5M153.0 104.0h2M193.5 125.9h3M196.7 124.3h2.5M200.8 105.4h1.5M252.4 101.1h2.5M213.8 97.5h1M186.3 135.2h1.5M188.6 115.1h2M207.0 127.1h1M222.3 113.2h1M203.3 124.7h1.5M35.7 125.4h1.5M236.9 124.0h2.5M127.7 132.5h2.5M252.4 102.2h1M57.9 130.5h2.5M282.7 120.4h1M78.4 135.5h2M90.6 131.7h3M68.2 121.7h3.5M171.2 124.8h3.5M195.4 108.5h1M51.4 105.3h3M138.1 123.4h3.5M197.7 118.3h1M203.5 126.3h2M152.1 100.0h1M99.2 138.3h1M35.8 105.0h1.5M201.3 112.8h2M125.5 112.0h3M276.6 139.1h1M183.6 104.0h1M140.6 136.4h2M140.9 124.8h3M168.4 139.0h2M277.2 115.1h2.5M197.4 107.5h1.5M64.1 111.5h1.5M158.6 114.3h2M104.7 102.9h2M202.5 123.2h2M97.2 124.0h3M52.7 123.2h1.5M229.2 115.9h3M72.8 121.5h2M61.0 105.9h3.5M147.9 121.0h3M152.1 115.3h3M168.4 106.1h6M181.5 102.8h6M169.6 135.0h2.5M184.5 102.7h6M171.8 108.4h2.5M186.3 106.1h1.5M164.6 127.0h2M184.9 116.7h3M163.5 137.2h2.5M160.2 107.8h2M142.3 125.1h1.5M171.9 106.1h2M188.0 113.4h1.5M185.8 106.9h6M140.7 102.1h4M156.6 122.4h5M167.7 97.5h5M168.0 112.9h1.5M151.5 130.8h1.5M195.4 106.7h6M149.0 129.8h3M153.8 103.1h3M173.5 136.8h2M185.8 117.0h4M183.3 134.7h1.5M162.2 117.2h5M167.7 125.2h6M167.0 110.6h5M193.5 131.4h2.5M157.8 130.1h2M172.8 104.8h4M201.4 120.5h3M173.8 134.5h1.5M167.0 134.5h2M179.6 116.5h4" stroke="#ee5a3c" stroke-opacity="0.34" stroke-width="1.1"/>
<path d="M128.9 138.7h1M261.8 127.9h3.5M166.9 137.9h2.5M267.2 113.8h1M166.5 99.4h2M123.5 127.4h3.5M142.7 101.3h2M134.3 111.0h1M101.0 114.2h2M104.8 138.0h3.5M117.6 129.1h2.5M241.6 123.9h2M37.3 101.1h3M183.9 138.9h1.5M148.0 104.7h3M226.5 100.8h1M54.5 136.1h1.5M92.5 127.0h3.5M153.6 114.2h3.5M280.6 118.5h1M155.4 128.7h2M68.4 123.5h1.5M226.1 130.9h1M100.7 132.4h2M282.1 110.7h1.5M73.0 105.6h1M150.6 118.2h1M257.1 130.8h2.5M156.5 111.9h3M69.3 106.0h2M53.5 103.1h1M81.9 111.7h2.5M165.2 125.6h2.5M45.9 138.9h3.5M97.4 98.8h1M105.8 126.9h1M221.0 106.4h1M203.7 136.2h2M188.4 124.4h3.5M91.7 128.9h1.5M256.5 111.6h3.5M92.6 116.4h3M248.9 123.7h3M168.6 108.9h3.5M150.7 127.3h1M256.8 98.1h1M84.3 121.2h2.5M106.0 104.8h1M110.2 133.8h2M49.4 135.3h3.5M66.9 125.3h2M88.1 96.4h1M238.2 124.4h1.5M111.1 123.6h2.5M65.5 112.3h2.5M262.3 116.6h2M120.9 131.3h2M98.5 111.3h3.5M96.0 132.1h1M143.7 134.6h1M234.4 138.6h2.5M176.2 105.0h5M192.1 97.7h2.5M183.3 108.0h2M161.5 127.1h1.5M179.8 105.4h6M168.7 134.5h1.5M193.5 126.9h2.5M156.0 131.3h2.5M177.6 109.9h1.5M171.4 96.7h6M151.1 122.1h2.5M195.4 120.3h2M144.2 132.2h5M180.8 103.2h2.5M177.6 133.9h2.5M199.8 130.1h2.5M178.0 107.3h1.5M187.5 136.1h4M169.8 114.3h1.5M177.2 108.3h1.5M196.4 127.4h4M163.2 97.8h6M195.2 123.7h3M166.7 126.2h2.5M174.1 108.0h2M190.0 127.5h3M165.6 137.6h4" stroke="#ee5a3c" stroke-opacity="0.5" stroke-width="1.1"/>
<path d="M232.9 98.6h1.5M58.7 131.9h3.5M280.1 103.8h1.5M68.1 101.1h2M194.7 118.2h1.5M72.0 124.7h3.5M48.0 109.0h2M245.8 101.8h2M45.2 124.9h1M91.3 97.5h3M154.5 100.9h1M166.9 106.3h1M68.8 130.9h3M217.7 133.2h3M239.7 96.2h2.5M138.3 99.7h2M193.5 114.0h2.5M127.6 117.6h2.5M82.1 96.8h2.5M275.2 102.6h2M115.8 136.3h2M110.4 99.3h3M231.1 115.7h1M87.8 108.8h1M225.5 131.9h3M225.2 112.3h1M227.6 127.5h1M141.9 99.9h2M73.5 119.2h3.5M97.4 128.2h1M150.8 137.5h2.5M257.5 137.3h3.5M270.1 109.2h1.5M235.9 107.1h2.5M269.2 116.5h1M82.1 116.2h2.5M199.7 102.4h3M219.7 106.4h2M249.8 135.0h3.5M281.8 106.0h3.5M158.7 104.1h1.5M90.8 111.4h3.5M216.2 110.7h1M120.0 119.2h2M192.4 116.8h2M101.5 110.6h1M42.5 117.7h1M145.5 134.3h1.5M193.3 120.4h2.5M259.5 121.5h2M184.2 115.0h3.5M52.9 115.6h2.5M86.2 124.5h1M146.6 133.5h2M97.5 118.1h2M151.1 130.1h2M234.1 125.7h1M261.4 135.0h2M57.2 117.7h2M73.1 134.5h2M63.5 108.5h3.5M271.1 139.1h2M241.4 121.6h3.5M51.1 129.9h2.5M116.3 107.7h3.5M88.2 113.5h1M128.2 125.6h3.5M266.2 131.4h1M64.3 99.1h3.5M33.4 98.0h1.5M53.6 109.4h2M278.5 114.9h3M191.4 126.2h1M154.5 112.2h1M159.9 101.0h3.5M127.4 96.7h2M90.9 121.5h1.5M36.4 106.1h1.5M93.4 121.6h3M191.0 118.7h3.5M104.9 126.5h2M87.7 112.9h1.5M103.6 99.8h1M243.5 112.0h2.5M198.8 115.5h1M97.1 103.6h2M203.2 125.4h1M105.2 119.3h3M174.3 128.7h1.5M36.4 134.7h2M132.9 103.1h3.5M79.8 100.6h3.5M75.6 134.9h1M81.9 105.1h1.5M95.7 99.9h2.5M88.3 106.7h3M277.3 96.8h2M141.6 97.1h3M148.3 130.4h6M188.8 97.3h3M147.8 113.3h2.5M147.6 118.8h1.5M168.4 124.1h2M133.6 108.2h3M137.9 136.7h2.5M156.1 114.2h6M121.2 109.3h2M128.5 100.5h2M143.0 108.1h3M168.9 118.0h3M143.0 134.8h3M188.2 139.0h1.5M153.3 122.6h2.5M174.0 100.7h4M137.1 104.3h1.5M158.8 109.7h3M163.9 132.7h5M150.7 102.9h1.5M150.5 113.3h6M138.1 106.8h1.5M169.8 138.9h5M163.7 121.0h2M139.6 136.0h6M171.8 131.1h2M127.8 123.5h2.5M164.4 99.5h4M165.4 110.7h1.5M138.3 100.6h1.5M161.3 101.2h6M144.8 136.3h3M172.3 139.1h2M141.6 123.6h2M158.6 130.3h4M137.5 106.5h4M144.9 137.4h4M138.2 103.8h6M148.2 101.5h1.5M157.4 123.6h5M168.8 132.2h2M175.5 134.6h5M146.8 101.5h5M157.0 131.4h5M178.6 100.1h4M139.9 97.5h3M156.0 127.1h3M130.3 101.7h2.5M151.1 128.1h3M134.9 133.5h4M154.2 117.9h3M164.0 139.0h2.5M174.7 133.9h6M158.2 132.8h6M153.8 138.5h2.5M135.4 98.0h1.5M160.4 99.1h3M148.1 98.1h6M180.1 123.2h6M145.0 138.3h2M157.4 109.1h1.5M138.7 121.0h2M156.1 116.6h4M130.2 125.1h6M133.5 127.7h4M151.9 103.7h4M174.4 102.6h2.5M168.9 110.1h2M178.9 106.5h2.5" stroke="#4a60e8" stroke-opacity="0.13" stroke-width="1.1"/>
<path d="M200.2 102.0h1M113.7 100.3h1M223.2 132.4h1M101.1 107.0h3M167.1 110.9h3.5M186.2 103.4h3.5M220.9 106.9h2M196.7 122.0h1M248.0 116.1h3M59.2 105.2h1M56.0 101.3h3.5M263.5 135.5h2M85.6 99.8h2M198.7 102.2h2.5M144.9 132.9h3M49.0 112.3h3.5M80.6 116.5h1M282.3 102.0h3.5M144.2 117.8h1M175.2 104.0h2M201.7 129.9h2M125.0 137.8h1.5M73.4 99.0h2M136.9 116.9h2M238.9 116.6h3.5M131.7 118.8h2M145.0 133.0h2M187.3 100.7h3M165.1 126.4h2M261.6 117.4h1.5M110.9 127.7h1.5M238.1 133.5h2M89.5 109.9h3.5M112.2 111.1h1M84.5 111.9h1M87.3 134.4h2.5M265.1 104.9h1M242.7 129.4h2.5M274.4 113.6h1M42.9 130.1h2M202.1 113.4h2.5M180.1 125.5h2M232.9 103.0h1M96.2 122.5h2M122.7 138.5h1M189.1 124.5h1M69.8 129.1h1M56.9 117.5h2M224.9 126.1h3.5M190.3 119.2h2M155.9 107.8h1M157.3 108.4h1M128.8 119.9h1M225.3 109.9h3M173.4 137.2h3M265.7 107.8h1.5M60.1 128.4h1.5M122.3 135.1h3.5M117.3 99.6h2.5M198.1 100.6h3.5M81.0 125.1h2M119.6 126.2h2M244.4 128.6h2.5M110.4 105.0h2.5M225.2 126.6h2.5M215.0 133.4h1M169.7 111.0h1M40.6 137.8h1M142.5 113.4h3.5M142.7 139.1h1.5M279.3 106.6h2M149.5 96.8h2M227.1 132.6h2M72.5 137.5h2.5M278.2 103.5h3.5M39.7 105.7h3.5M215.8 101.0h2M54.2 131.9h1.5M148.0 111.2h3M39.1 128.8h2M215.7 124.6h1M71.6 129.2h3M111.5 131.1h3.5M229.2 125.5h2M141.8 125.3h1M87.8 133.6h3.5M167.1 105.6h1M194.7 112.3h2.5M78.1 96.2h3M201.8 121.5h2M190.6 132.6h3.5M237.1 134.0h1.5M126.7 101.2h2.5M170.0 115.0h4M146.5 97.0h2M155.7 100.1h2.5M146.0 131.7h2.5M154.5 132.5h3M147.2 127.3h6M144.3 115.1h2.5M179.3 117.6h2.5M177.7 131.2h6M140.2 98.1h5M170.0 114.6h1.5M145.9 124.3h1.5M160.9 128.3h6M182.7 134.2h6M176.6 97.1h1.5M163.6 120.0h6M165.9 107.7h2.5M141.6 136.3h3M137.8 129.0h4M140.9 101.7h2.5M140.2 137.2h3M172.8 114.0h3M127.9 129.9h2.5M155.6 117.4h5M159.1 114.5h2.5M152.4 112.8h3M150.3 119.6h5M144.9 129.1h1.5M143.8 96.8h1.5M117.1 103.2h2.5M186.8 131.9h6M142.9 107.1h2.5M156.0 100.4h2.5M166.2 134.2h2.5M165.0 124.9h2.5M170.8 128.2h2M137.6 135.6h1.5M170.9 137.9h5M175.9 112.0h5M171.0 111.4h1.5M143.8 109.8h5M161.6 127.1h3M162.1 124.5h4M158.3 96.8h1.5M173.6 127.3h5M157.4 119.8h2M153.3 129.2h1.5M149.1 100.3h3M154.4 107.9h5M123.6 97.2h1.5M153.6 135.1h1.5M159.8 121.2h6M148.0 129.6h1.5M134.8 130.4h3M140.5 102.0h6M162.1 117.7h1.5M162.6 114.6h2M162.4 129.2h2M131.4 134.7h3" stroke="#4a60e8" stroke-opacity="0.22" stroke-width="1.1"/>
<path d="M143.0 126.7h2M73.3 137.1h1M124.9 128.0h2.5M173.3 133.8h2.5M247.7 137.5h2.5M137.6 119.1h3.5M141.6 121.8h1M188.7 116.6h3.5M150.0 115.8h2M176.9 111.6h1.5M124.9 132.9h1.5M206.8 107.6h3.5M279.3 139.2h2M228.9 127.2h2.5M74.8 103.7h3M236.2 126.2h1M118.9 132.7h1M231.1 132.6h2M270.0 102.5h2M186.7 131.0h1.5M113.9 113.9h1M73.9 134.8h3M175.1 127.7h3M111.6 112.5h2M72.1 133.3h3M193.9 132.4h3M122.7 122.3h1.5M49.3 132.1h1M87.8 137.2h1M146.3 99.9h3M256.5 132.9h1.5M183.1 120.4h3.5M117.2 114.2h3M200.6 128.3h3M72.5 108.8h1M250.2 139.0h1M109.5 137.2h3M128.0 119.6h3M88.6 105.6h1.5M135.5 136.4h1.5M52.5 112.1h2M148.6 105.0h5M129.3 108.1h2M153.2 136.1h4M146.8 116.2h6M181.7 139.1h5M159.1 120.7h2M159.7 110.4h2.5M140.2 96.7h2M154.3 137.7h2M154.5 100.5h3M140.2 136.7h1.5M143.0 110.2h1.5M187.0 129.0h5M170.2 106.9h1.5M135.0 127.6h4M158.3 119.0h3M150.1 102.0h6M145.7 131.6h6M162.5 131.2h4M145.2 125.8h1.5M138.5 104.7h2.5M142.9 121.1h2.5M172.2 121.4h4M172.5 121.7h2M163.5 111.1h1.5M163.6 129.9h2.5M142.5 112.6h1.5M166.7 128.6h6M164.2 98.0h2.5" stroke="#4a60e8" stroke-opacity="0.34" stroke-width="1.1"/>
<path d="M92.5 103.6h1M51.1 115.8h2.5M57.0 108.3h1.5M49.6 126.6h1M184.3 116.7h2M232.6 96.6h1.5M257.7 106.2h1.5M50.9 111.3h2.5M220.5 132.4h2.5M220.4 117.9h1M65.3 98.9h1M204.1 116.8h2M107.6 99.2h1.5M233.2 97.4h2M258.4 97.3h1.5M110.3 116.8h1.5M110.0 123.5h2M196.3 120.8h1M139.9 100.2h2.5M237.8 130.3h3M138.5 122.2h3.5M121.7 115.0h2.5M121.2 123.4h3.5M280.4 125.9h2M228.2 105.1h1M44.1 132.3h2.5M85.6 114.2h1.5M93.6 102.9h2.5M237.3 130.3h2.5M54.5 125.9h1M65.5 119.7h1M162.0 107.0h2M233.8 106.1h1M139.4 104.5h2.5M99.8 129.7h2M124.8 114.9h1M208.2 129.5h1M267.5 105.7h1.5M61.1 128.6h1M84.8 97.8h1M88.5 114.3h1M101.2 132.0h3M144.8 110.7h6M171.5 134.0h2.5M167.3 96.9h2M154.2 137.0h2.5M182.6 103.8h1.5M166.1 126.7h4M141.2 132.4h2.5M171.7 108.1h4M166.1 118.5h1.5M160.2 97.0h6M138.5 136.3h2.5M148.7 133.5h1.5M139.1 136.0h3M132.0 134.7h6M147.3 118.4h1.5M133.5 105.4h4M112.6 120.5h6M143.6 104.2h5M132.2 100.5h5M170.1 138.8h4M156.3 105.2h2.5M129.1 117.3h3M143.2 137.2h4M156.5 112.1h1.5M148.9 136.2h2M161.3 119.0h2.5M156.6 123.1h5M167.8 113.4h2.5" stroke="#4a60e8" stroke-opacity="0.5" stroke-width="1.1"/>
<rect x="31.5" y="95.2" width="254.2" height="46.2" fill="none" stroke="#ababab" stroke-width="1.1"/>
<path d="M60.6 166.6h1.5M37.7 211.4h1M242.2 158.9h2M239.5 198.2h2M126.7 189.5h3.5M167.7 165.8h1.5M280.5 198.7h2.5M250.1 218.9h2M87.3 201.3h2M256.2 209.1h3M270.2 178.6h1.5M196.3 191.2h2.5M54.6 212.6h1M152.6 211.1h2M277.4 205.3h3.5M72.9 204.5h1M75.3 214.8h1M275.4 203.1h1M202.9 164.3h1M261.6 162.4h1M103.1 174.6h2M191.8 191.2h3.5M238.4 189.2h3M66.8 201.2h2M178.9 183.9h1M90.4 187.2h2M253.0 189.7h3M155.4 175.8h2M114.6 158.9h3M69.1 217.9h3M249.1 197.1h2M245.0 202.7h2M42.0 191.8h1.5M126.8 200.5h2.5M71.2 202.8h3M223.8 202.4h3M116.4 182.1h3M195.9 179.1h1M235.5 166.5h3.5M192.8 214.3h3.5M213.4 162.6h2M52.1 194.3h1.5M266.0 173.2h1M107.4 192.0h1M47.1 203.1h1M186.9 158.4h1M273.2 176.8h3M267.9 185.4h1M77.3 192.9h3M47.5 195.4h2.5M162.4 167.9h1M202.4 177.8h2M242.4 199.3h2M96.2 201.9h2.5M164.4 175.8h2.5M222.4 192.4h2M203.1 214.7h2.5M128.0 200.1h3.5M64.8 171.5h3.5M111.8 175.7h1M180.6 186.9h2M278.3 186.8h2.5M221.4 201.5h3.5M121.4 157.4h1M71.0 170.2h1.5M215.7 198.5h1.5M181.7 158.0h1.5M213.6 165.8h1.5M264.1 200.6h2M133.2 202.0h2.5M195.0 171.2h1M188.4 197.7h1M131.1 186.0h2M55.3 182.1h1.5M269.7 212.4h2M55.1 165.2h1.5M87.4 159.2h1M96.4 189.6h1.5M109.8 179.5h2.5M51.3 206.7h3.5M111.2 181.3h1M194.5 207.7h3M74.2 186.0h2M124.5 194.1h1M164.8 210.0h1M219.1 216.8h1.5M281.6 168.4h1M151.0 216.3h3M250.6 209.3h2M57.3 213.2h1M70.2 193.4h1M149.4 168.2h1M103.8 179.6h3M222.7 173.9h2.5M90.5 181.7h1M123.7 168.8h2.5M48.9 214.1h1M46.0 211.9h1M75.3 199.2h2M35.7 183.9h1M199.7 177.8h2M163.3 203.1h1M117.8 191.9h3.5M67.5 209.5h1.5M124.8 189.0h2M181.3 186.6h3M113.0 187.0h1.5M115.2 158.5h2M247.6 191.4h3M220.5 177.2h2M163.8 187.5h1M49.1 165.3h3.5M266.5 219.2h3M38.1 172.6h2M217.9 168.5h1.5M237.2 214.7h1M136.9 166.1h1.5M272.3 217.1h3.5M108.9 195.3h1.5M187.0 183.3h2M66.5 190.0h3M249.7 162.9h2.5M95.0 194.6h2.5M101.1 205.7h3.5M78.2 183.7h1.5M221.9 162.7h1M275.3 207.1h1M90.7 163.7h1M169.0 162.8h2.5M111.9 200.9h1.5M132.5 161.9h3.5M153.0 219.7h1.5M146.7 161.0h1.5M175.3 158.7h2.5M187.2 194.8h2.5M194.9 179.6h5M146.2 177.0h5M183.8 192.4h2M170.9 165.2h5M161.5 177.4h6M162.6 184.1h2.5M167.4 189.2h3M197.8 193.2h3M181.4 203.8h3M169.1 204.1h2.5M187.2 171.8h1.5M171.7 213.5h3M164.7 167.0h3M177.0 171.3h2.5M178.0 177.9h5M160.9 178.8h3M167.1 182.7h5M172.4 192.9h3M174.6 218.0h1.5M184.8 178.9h4M181.3 206.7h3M166.2 197.0h2M181.2 217.3h2.5M168.9 195.8h5M189.3 161.2h6M177.1 194.4h5M165.6 219.4h2.5M132.9 184.4h3M191.3 185.6h2.5M189.1 211.2h4M161.1 172.7h3M159.5 183.9h4M179.3 157.7h3M161.3 189.7h5M191.3 198.3h1.5M200.0 177.3h3M168.0 199.5h3M164.0 207.1h2.5M182.6 178.7h2M161.0 184.6h1.5M167.2 180.6h6M141.2 214.1h3M136.1 191.2h3M155.3 172.2h3M188.3 201.3h2.5M183.8 187.3h4M164.8 176.7h2.5M194.1 197.8h2M163.0 188.4h2M169.5 215.5h2.5M171.7 189.1h6M146.0 165.3h6M205.2 159.6h2.5M186.0 162.6h4M181.3 184.4h2.5M182.0 164.6h5M181.3 203.1h1.5M173.9 171.3h5M174.2 202.8h5M158.2 179.5h1.5M163.4 172.1h3M170.1 159.1h1.5M186.7 217.8h5M186.0 173.2h4M189.2 188.4h2M176.3 219.2h1.5M171.9 160.5h5M165.6 218.9h1.5M172.9 165.5h2.5M151.6 211.6h4M156.7 214.1h2M159.6 176.3h4M172.1 207.6h1.5M165.8 175.0h2M155.5 177.7h4M160.0 193.0h6M170.7 208.6h6M162.5 158.0h3M167.7 170.4h5M174.7 172.8h1.5M162.7 191.7h4M164.9 160.2h2M189.0 213.9h2.5M162.8 186.1h6M179.7 217.0h5M154.0 208.8h3M176.6 169.9h6M165.6 165.1h2.5M157.5 185.6h3M173.5 182.8h5M173.0 165.9h6M156.2 216.7h5M172.0 157.6h5M172.5 204.9h4M175.8 157.5h1.5M147.8 202.0h2.5M170.8 205.0h2M181.4 216.7h5M157.1 215.7h3M190.2 189.6h5M163.8 205.8h2.5M175.9 192.8h6M190.7 164.7h6M169.4 219.6h2M180.4 201.8h5M194.8 207.2h1.5M162.4 200.6h3M161.2 179.8h4M180.7 181.3h4M144.1 214.5h2M145.8 181.1h3M168.3 194.4h1.5M149.9 191.2h2M166.6 196.5h6M168.8 158.9h2.5" stroke="#ee5a3c" stroke-opacity="0.13" stroke-width="1.1"/>
<path d="M273.3 212.1h1M240.4 170.5h1.5M267.8 181.9h3.5M130.2 187.5h2M97.9 214.2h2M148.1 183.2h3M227.5 185.1h2M185.2 190.4h2M123.2 186.6h3M84.3 195.6h3M130.6 183.7h1M104.6 191.6h3M84.2 161.4h1.5M121.6 215.4h3M79.6 219.9h3M241.5 164.3h3.5M109.9 204.0h1.5M98.5 162.1h1.5M260.9 192.5h1M82.8 159.6h1M173.9 190.4h3.5M67.6 176.2h1.5M161.2 192.4h2M256.4 180.2h2M216.5 174.2h3.5M94.6 207.6h2M270.8 188.4h3.5M244.2 201.1h3M213.8 183.3h1M221.0 201.9h1.5M173.4 165.8h2.5M220.7 193.4h3M246.0 218.2h2.5M78.0 219.4h2M182.0 188.2h1.5M102.0 189.7h1.5M147.0 181.9h1M77.5 172.5h2M79.6 168.3h1M104.0 218.2h3.5M232.3 178.5h2.5M180.5 203.1h2M247.2 207.3h2M254.0 186.0h2.5M227.9 181.6h2.5M257.3 194.5h1M52.3 161.2h3M80.4 169.5h1M37.7 212.3h2.5M57.4 179.3h3.5M206.4 191.8h2M154.3 183.8h1M205.6 168.7h2M84.2 173.3h3M165.0 177.1h1M45.0 187.8h3.5M187.1 168.5h2M107.1 201.9h2M67.7 216.5h1.5M171.2 190.1h3.5M46.3 171.3h1M112.8 202.9h1.5M71.1 218.7h1.5M215.3 183.2h2.5M120.5 210.6h2M150.6 166.9h3M253.9 166.2h3M209.2 206.9h1.5M264.8 161.4h3M220.9 183.8h2M81.2 191.5h1M189.4 218.5h1M241.9 210.3h2.5M81.6 194.1h2.5M135.6 193.3h2M152.7 170.8h1M108.3 177.2h3M192.6 179.5h2.5M250.2 212.3h2M194.2 199.8h3.5M156.6 175.2h1M275.2 216.9h2M156.0 180.0h2M250.8 177.5h2M237.3 173.2h2.5M146.4 186.5h2M55.4 160.9h3M188.4 215.3h1.5M40.8 188.0h2.5M223.1 169.5h2M255.7 177.7h2M189.0 208.8h2M164.8 201.3h2M134.8 165.5h2M214.3 170.7h3.5M69.5 190.4h1M244.6 219.9h2M231.4 173.4h2M248.7 205.1h1.5M171.1 179.8h3M202.8 178.9h3.5M143.4 211.1h3.5M99.3 170.5h1M238.7 192.9h3M105.6 215.5h3.5M218.6 176.1h3M218.5 184.7h3M101.4 204.0h2M231.7 159.0h3.5M182.0 214.0h2.5M241.2 198.3h3M213.4 164.4h3.5M92.7 184.9h1M207.7 200.9h1M66.1 160.4h3.5M279.1 184.7h1M183.8 174.1h2M278.0 164.1h1M185.0 197.9h2M224.9 172.4h1.5M155.0 166.4h1M112.6 186.0h3M140.8 167.0h1.5M138.0 184.7h1M103.8 213.8h1.5M158.7 184.4h1.5M215.9 160.8h1M191.3 187.1h2M97.9 213.5h2M175.2 176.3h1M86.6 209.9h1M112.1 215.3h3M67.2 181.7h2.5M276.3 177.4h3.5M188.3 166.5h1M172.5 173.1h6M157.2 187.4h3M161.8 176.0h2.5M187.2 207.8h2.5M166.0 201.1h2M183.2 183.8h3M178.7 171.7h6M167.6 168.6h1.5M134.9 165.0h4M163.8 216.7h4M171.3 161.7h4M190.4 188.4h2.5M168.7 189.9h6M200.6 161.3h5M201.7 159.8h5M158.8 208.1h2M153.9 176.1h2M187.8 185.0h4M170.9 190.6h2.5M199.6 167.5h5M182.3 209.8h3M160.5 197.1h4M186.7 198.7h4M156.8 189.4h2M181.7 199.3h3M195.3 191.1h3M175.2 184.7h1.5M177.3 192.0h2.5M191.5 197.4h2M160.9 166.1h2M156.8 175.6h2.5M166.5 193.2h2M191.1 189.5h1.5M176.7 202.0h2.5M166.5 212.4h2.5M152.4 168.3h6M197.6 162.8h5M194.1 202.2h6M188.2 163.9h2M166.7 186.7h6M182.4 172.1h5M180.8 170.9h1.5M160.8 175.8h1.5M179.4 193.5h3M165.4 176.5h2.5M173.2 210.4h5M167.4 188.1h2.5M180.8 189.0h2.5M171.7 176.7h4M165.2 213.1h2M165.5 216.7h3M161.7 217.3h3M189.5 158.6h3M164.7 163.1h2M160.7 217.6h4M170.5 210.6h6M200.1 205.0h4M173.5 215.5h2.5M175.5 213.3h4M193.0 172.1h2.5M170.8 213.3h3M193.9 193.0h3M165.0 203.8h3M156.6 160.9h2M170.4 219.2h2.5M140.0 194.6h1.5M147.4 214.5h4M163.5 164.9h2.5M174.0 198.2h1.5M172.0 204.7h3M184.4 201.2h5M191.2 190.1h6M204.0 159.2h2M169.1 157.4h2M161.7 178.0h5M184.6 170.4h3M161.8 177.8h4M192.1 211.5h3M177.0 192.6h5M176.5 214.8h2M175.4 192.4h2.5M179.6 198.8h4M164.5 173.4h4M159.8 185.0h5M191.5 185.7h1.5M161.2 195.4h1.5M188.6 215.4h6M164.9 200.7h2.5M161.8 191.5h1.5M163.3 159.6h3M174.7 184.4h2M182.8 169.9h1.5M177.3 204.5h3M153.7 177.5h2M181.6 173.1h2M176.0 168.5h2M166.7 183.7h4M152.2 203.8h2.5M165.9 169.0h2.5M173.5 204.0h1.5M169.0 203.2h2M179.5 208.9h5M158.6 181.0h1.5M157.9 216.1h2.5M214.6 185.8h3M175.0 188.0h5M151.8 216.1h2.5M177.6 199.2h2M169.2 173.5h4M201.1 201.3h3" stroke="#ee5a3c" stroke-opacity="0.22" stroke-width="1.1"/>
<path d="M91.0 210.1h1M269.2 180.8h3.5M171.3 177.8h1M71.5 215.9h1.5M233.3 171.9h3M137.7 189.0h2M265.2 160.8h3.5M241.4 187.2h2.5M183.9 190.6h1.5M168.4 179.5h1.5M260.1 195.4h3.5M135.6 162.7h1M50.7 208.7h1M187.1 189.8h2.5M103.9 185.9h3M238.7 173.0h1.5M214.2 160.0h3M280.8 176.4h3.5M243.7 171.0h2M87.9 214.7h2M129.2 219.4h2M47.7 212.9h3M84.8 189.2h3M46.6 177.2h1M88.9 177.3h2.5M219.4 208.3h2M159.4 205.2h2M79.6 188.5h1M198.4 204.7h1M164.3 207.8h2M163.9 159.3h1.5M231.9 207.1h3.5M226.8 166.7h3M269.4 216.8h2M164.1 192.7h1M179.6 199.0h2M264.0 158.3h3M201.1 212.9h3M212.4 177.5h2M195.4 198.5h3M131.7 211.1h3.5M151.2 161.8h3M70.4 219.9h2M257.5 216.3h2.5M102.6 157.7h2M95.4 159.7h1.5M145.7 161.4h1M258.0 162.6h3.5M177.2 205.8h1M145.2 208.6h3.5M272.7 219.0h1.5M127.5 173.4h3M218.6 175.2h3M174.9 216.6h2M220.0 191.6h1.5M159.0 164.6h1M131.7 211.8h3M65.1 213.7h2M119.8 195.9h3.5M216.5 205.5h1M233.9 183.5h2.5M86.7 190.0h2.5M131.5 207.3h1M52.6 208.6h1M139.7 194.9h1M46.5 179.2h1.5M257.8 179.0h3M215.6 163.8h3M239.1 207.1h1.5M149.3 202.2h3M265.8 208.6h2M163.5 216.3h2M225.0 186.3h1.5M214.1 199.7h1M110.1 208.9h3.5M263.2 161.1h2M74.9 197.4h2.5M261.9 179.4h2M227.9 195.1h2M104.1 164.1h3M280.4 178.4h2M56.4 200.9h1M54.8 175.2h2M152.9 175.3h2.5M202.6 198.2h3M144.4 165.3h2M172.0 167.8h6M174.0 168.9h2M193.0 205.2h2M183.0 173.3h2.5M200.0 215.7h1.5M177.8 165.3h2M143.4 204.3h4M165.2 163.3h5M173.6 163.0h2M153.5 211.5h3M155.4 175.3h2.5M181.4 200.3h4M171.2 188.9h5M182.2 219.5h2M179.4 163.5h2M166.8 163.0h2.5M168.3 179.3h1.5M182.3 197.4h4M183.0 162.8h3M184.5 190.5h3M193.7 164.9h4M178.1 172.8h2.5M196.8 196.2h1.5M181.9 195.1h1.5M181.4 214.5h3M177.1 179.1h2M184.1 166.4h6M191.0 164.0h1.5M183.9 206.8h2M173.6 205.1h2.5M166.8 198.7h4M169.3 183.0h2M175.6 198.6h3M169.8 195.0h6M196.8 167.6h5M173.5 215.3h5M173.5 207.1h4M170.0 159.1h3M180.3 173.0h1.5M147.0 191.4h5M161.6 168.8h2M192.1 182.8h5M173.0 201.7h2M161.7 166.5h2M160.0 182.5h3" stroke="#ee5a3c" stroke-opacity="0.34" stroke-width="1.1"/>
<path d="M38.0 167.7h2M74.6 209.9h3.5M143.5 164.4h2M86.8 165.1h3M116.1 158.9h2M160.1 193.3h2.5M84.0 186.7h2M182.8 210.0h3.5M135.2 175.3h2.5M76.5 180.5h1M187.2 197.7h1M224.9 188.1h2M54.0 171.0h2M139.3 198.6h3M65.6 208.0h3.5M91.1 193.1h3.5M137.4 190.5h1M93.3 203.4h3M108.3 186.6h1.5M48.4 215.2h2.5M198.0 216.8h3M219.1 194.7h1M145.4 165.2h1M226.7 178.0h3.5M41.5 217.6h2M167.2 210.0h1.5M99.3 197.3h2M268.3 166.7h2.5M213.1 219.5h1.5M158.4 210.0h1M90.4 186.4h1.5M137.7 197.7h3.5M109.4 215.7h2M202.9 209.1h2.5M282.1 202.7h2M220.5 186.0h3.5M168.5 193.9h1.5M90.1 169.2h1M217.6 196.4h2M205.4 184.6h2M132.2 176.6h3.5M275.4 176.2h2M111.2 211.4h1M173.8 205.1h3M235.2 181.8h2M162.9 204.5h3.5M143.3 202.1h1M234.5 217.2h2M233.8 177.1h1.5M129.9 177.7h1M253.1 207.9h1.5M59.3 162.6h2M219.6 212.0h3.5M215.6 180.1h2.5M105.3 161.2h2M281.2 186.7h1M102.5 190.5h1.5M58.5 211.9h1M155.5 190.7h2M97.2 187.4h3M125.1 191.3h3.5M99.4 188.7h3M279.2 181.2h3M183.2 215.2h1M109.8 217.3h2M168.3 207.8h3.5M114.4 195.4h3M213.5 208.3h1.5M174.7 205.4h1.5M209.9 207.2h2.5M187.4 178.9h3M170.5 165.7h4M183.6 174.7h2.5M173.6 212.7h1.5M194.2 206.2h1.5M157.0 184.9h2.5M184.5 161.5h2M172.6 175.1h2.5M177.7 182.8h3M156.2 188.7h6M150.8 211.7h6M169.5 202.5h2M194.5 184.1h2M156.9 162.4h2M188.5 196.8h5M188.5 157.6h4M179.0 216.8h3M207.9 167.0h4M158.9 211.1h1.5M176.2 216.0h2.5M148.0 186.5h5M179.4 184.4h6M172.6 161.9h3M162.2 166.0h6M165.5 163.1h5M168.4 178.0h5M151.6 172.9h3M189.8 216.0h4M178.4 177.6h2M174.2 200.1h5M160.1 170.2h4M185.2 187.1h2.5M178.3 195.8h2M183.1 173.7h3M185.9 162.0h5M182.5 203.1h2M161.1 217.4h6" stroke="#ee5a3c" stroke-opacity="0.5" stroke-width="1.1"/>
<path d="M185.9 212.9h2.5M139.8 195.4h2.5M54.6 205.9h2.5M204.4 189.3h3.5M80.5 180.9h1.5M186.6 196.2h2M176.3 212.2h2M122.2 189.6h1M43.7 216.2h2.5M55.6 180.8h1.5M230.1 159.0h1M161.9 160.0h3M223.9 174.8h2M35.3 203.0h2M206.8 170.7h1.5M190.7 172.3h3.5M69.9 208.4h1M211.3 178.0h1M108.7 201.9h1.5M253.2 161.8h3.5M261.9 175.9h3.5M40.7 207.4h1M61.7 199.2h2M186.9 181.6h1.5M36.6 210.6h2M52.9 160.3h2M220.3 175.9h3.5M180.2 188.2h2M147.6 189.3h1.5M202.6 164.9h2M72.4 196.8h2.5M163.2 164.3h2.5M206.2 187.1h1M221.2 212.4h2.5M199.0 162.8h3M40.1 168.8h2M87.4 183.6h1M266.9 192.4h3M55.6 187.4h2M183.7 173.5h1.5M173.7 163.0h1.5M235.7 203.5h2.5M35.5 182.2h1M216.5 166.6h1M270.5 206.4h2M77.7 218.8h2M207.3 182.9h3.5M137.9 168.8h3M56.0 165.8h3.5M38.7 166.9h2.5M155.0 165.5h1M128.0 205.6h2M131.2 196.0h2.5M105.3 170.3h1M111.9 161.7h2M153.9 174.3h1M167.0 176.8h1M155.4 195.8h1M238.9 185.3h1.5M125.7 216.7h1M123.8 171.2h1M132.7 183.8h1.5M262.5 217.1h2M233.2 167.1h2.5M221.3 167.4h3M202.5 213.4h1M116.3 206.0h2M255.9 193.1h3.5M92.1 160.0h3.5M163.8 197.8h1M214.3 209.5h2.5M78.2 162.4h1.5M222.0 201.5h2M212.8 195.1h3.5M170.5 193.7h1M280.3 215.5h3M177.4 169.2h3.5M244.3 217.0h2M234.4 164.6h3.5M62.1 177.6h3M268.6 215.7h2.5M196.4 158.9h2.5M134.6 194.6h1M267.7 176.4h2.5M242.9 204.2h2M212.1 180.0h2M204.3 167.7h1M150.9 209.0h2M180.0 190.3h1.5M222.6 169.7h2M68.0 173.6h2M62.1 178.4h1M137.0 178.6h3.5M250.8 184.1h2M216.1 166.8h3.5M181.6 181.0h2.5M132.2 219.3h2M102.0 178.0h2M180.9 182.9h1M270.3 178.5h1M252.9 204.4h3.5M79.3 174.2h2M96.6 202.3h1.5M38.5 182.7h3.5M35.1 157.6h2M254.4 206.0h2M236.8 184.6h1M139.9 185.3h3.5M159.8 167.7h2M241.5 186.7h1.5M152.5 204.8h3M245.5 197.0h2M76.6 183.2h2.5M207.7 201.1h2M68.8 165.2h1M146.4 214.9h3M275.3 170.7h3.5M122.1 218.2h2M214.3 193.3h2.5M80.7 177.2h3M274.4 211.2h2M137.8 190.6h1.5M269.5 171.9h1.5M76.5 210.0h2M86.2 203.2h2.5M141.1 215.4h3M39.6 201.2h2M78.6 207.5h2M227.1 159.3h1M249.0 168.6h1M61.4 212.0h2M211.0 207.1h1.5M203.3 168.9h2M103.9 200.7h2.5M103.6 214.5h3M150.2 159.3h3.5M207.9 200.8h3M192.1 163.2h1.5M60.8 178.4h1.5M280.3 186.2h1M167.3 194.9h1.5M178.0 212.4h2M201.6 175.7h2.5M111.2 170.9h1M275.8 192.8h1.5M233.1 177.3h1M50.1 183.8h2M45.2 183.1h3.5M57.3 174.2h1M137.0 161.8h3M142.2 171.4h5M156.7 180.9h1.5M154.4 181.7h3M121.1 189.3h2.5M144.0 189.4h5M141.7 189.5h3M158.1 210.2h5M132.3 191.6h3M138.2 189.8h1.5M156.2 215.9h6M140.1 214.2h1.5M145.5 190.0h2.5M159.4 158.9h1.5M148.4 195.3h2M136.9 212.4h2M141.4 171.1h2.5M148.2 195.9h1.5M163.6 195.7h4M129.4 206.3h6M151.9 217.7h4M146.4 182.4h5M142.8 215.7h5M125.0 180.5h3M159.4 175.9h2M161.5 157.8h1.5M166.0 217.9h5M146.6 218.9h1.5M167.3 184.4h2M182.3 172.5h5M169.7 201.1h5M146.3 216.6h1.5M141.9 165.5h2M131.1 196.2h6M154.9 170.8h5M175.8 194.0h5M140.7 158.1h1.5M165.4 186.1h2.5M148.0 219.9h2.5M143.9 186.1h4M137.5 197.1h2M148.5 198.9h2.5M139.2 185.6h1.5M158.1 194.2h2.5M157.1 177.8h6M177.8 210.2h1.5M149.5 173.6h2.5M145.3 202.0h2.5M134.6 201.1h2.5M139.4 214.2h6M164.6 205.8h2M138.2 211.9h2M133.5 200.9h1.5M160.5 167.7h3M139.8 171.7h6M142.2 212.6h6M165.4 178.2h5M159.1 206.9h3M148.8 219.1h4M145.6 218.8h3M145.1 173.3h1.5M131.5 177.2h1.5M117.7 202.3h6M158.2 165.2h3M147.0 216.1h5M140.3 203.4h6M161.5 173.2h2.5M168.9 174.5h1.5M140.9 213.5h2M143.8 212.8h2M133.4 208.3h3M154.0 164.8h1.5M129.9 219.4h6M132.4 175.1h6M159.2 160.9h2M156.0 217.8h2M101.5 217.3h3M151.1 177.6h6M134.3 179.1h3M140.5 174.5h1.5M148.0 194.9h2.5M158.8 163.0h1.5M131.2 204.7h3M140.3 202.4h4M140.9 201.8h2M166.3 181.7h4M142.6 192.4h6M108.9 210.0h4M136.2 220.0h6M137.4 192.8h2.5" stroke="#4a60e8" stroke-opacity="0.13" stroke-width="1.1"/>
<path d="M241.3 186.4h1M53.5 162.0h1M110.3 219.6h2.5M101.2 165.0h1M40.5 162.5h1.5M129.2 201.8h1M280.0 189.0h2.5M35.8 217.4h1M202.4 210.0h3.5M269.8 189.2h2.5M251.9 184.6h1M54.4 210.4h3.5M180.7 217.2h2M249.7 173.5h1M125.5 185.6h3.5M177.8 200.6h1M89.5 211.5h1.5M104.6 180.5h1.5M200.9 161.3h2.5M252.7 193.2h3M114.1 165.6h2M262.6 165.3h3M257.6 173.0h3M169.7 160.6h3.5M81.9 160.1h2.5M80.0 163.1h2M107.2 160.9h2M280.6 193.3h2M227.1 164.4h2M95.8 208.7h2M155.8 157.7h2M116.4 219.6h2M276.8 213.4h3.5M88.7 158.2h1M281.9 166.1h1M37.2 172.3h1.5M234.2 160.6h2M82.9 168.3h1M274.8 187.1h2M132.6 192.1h1.5M262.9 206.9h1M212.1 178.8h3.5M204.7 189.8h1.5M188.3 162.6h2M202.1 158.6h2.5M223.3 161.6h2.5M38.2 203.5h2.5M282.3 196.2h2M213.0 171.0h2M233.8 184.2h3M107.7 199.8h2.5M258.5 206.7h2.5M63.6 190.6h1M78.7 191.3h2M268.3 169.3h3M112.6 178.4h1M260.1 204.5h1M255.6 192.7h1M118.7 184.5h1.5M214.6 196.5h1M223.9 200.9h1.5M232.9 202.6h1M246.7 218.5h1M137.8 218.3h1M181.7 196.8h2M103.5 209.6h2M37.7 214.6h2M61.7 197.7h2.5M72.3 158.2h2.5M82.3 196.7h3.5M186.6 169.0h1M210.9 182.6h2M180.1 201.3h3.5M134.3 192.1h2M206.3 168.7h1M221.5 202.1h1M97.4 178.0h2M135.0 196.6h2M200.6 202.9h3M159.4 185.8h1M219.3 210.4h1M130.3 178.9h3M116.3 186.6h3.5M200.5 184.6h1M184.4 213.6h2M33.1 165.4h1M120.5 188.4h1.5M65.3 189.0h1.5M74.1 195.0h3.5M194.5 168.3h1.5M137.6 196.6h2M238.5 216.3h2M92.3 215.4h2.5M222.7 165.6h2M137.9 209.4h1M113.9 158.3h3.5M215.5 185.4h1M219.9 189.5h2.5M223.1 172.1h1M133.3 205.2h1M211.4 206.7h1.5M68.2 163.8h1M124.2 175.9h1.5M80.7 171.5h2M173.3 180.4h2.5M85.5 173.6h2.5M100.4 172.9h3.5M254.0 195.5h3M125.6 158.6h2M253.5 183.2h2.5M212.1 179.0h1.5M194.0 194.3h3.5M149.9 196.1h2.5M225.9 170.7h3M202.7 199.7h3M75.1 175.1h3.5M48.5 190.7h1.5M164.2 191.8h3M35.4 187.5h2.5M92.9 188.9h1M88.9 177.9h2.5M138.8 163.1h1.5M117.7 210.8h3M153.0 216.4h2M129.0 168.2h1.5M153.2 162.9h2.5M139.6 200.7h2M159.0 173.8h2M160.8 190.7h2M132.3 199.0h6M135.5 158.1h6M144.2 164.5h3M143.1 184.0h2.5M153.6 164.7h1.5M176.4 166.0h2.5M160.0 196.9h2.5M168.0 191.5h2.5M139.2 164.5h6M165.3 183.5h1.5M137.9 186.5h2M153.0 195.4h2M155.4 191.9h6M130.3 191.4h2M138.6 172.8h1.5M165.9 196.6h2.5M145.9 207.7h6M139.4 189.1h6M145.4 204.0h4M142.4 165.0h2M129.3 185.2h5M126.7 184.8h6M142.9 198.8h4M142.6 168.0h5M153.6 170.4h4M140.4 189.8h2.5M143.1 185.4h2.5M152.2 172.2h5M152.8 194.7h2M134.9 195.4h4M162.9 218.9h2M133.9 199.9h3M148.8 202.5h3M148.9 215.9h5M157.5 205.4h2M163.3 217.3h4M135.7 175.7h5M157.2 207.6h2.5M140.8 158.4h5M112.5 212.9h5M143.0 186.5h1.5M138.9 200.6h5M142.8 215.0h4M152.1 167.6h2.5M148.8 164.0h4M138.5 190.1h3M150.9 161.1h2.5M142.3 181.9h1.5M152.8 164.4h2.5M147.5 199.4h1.5M108.8 201.6h5M135.7 216.7h1.5M150.6 214.5h1.5M150.2 174.0h2M132.6 192.2h3M148.3 207.8h5M140.6 204.1h2M177.4 195.0h4M130.6 190.7h5M152.0 202.1h3M140.6 213.1h6M152.5 164.0h2M140.1 193.5h6M124.7 163.2h2M168.0 193.7h5M150.2 164.8h5M134.3 192.5h2M141.1 213.6h1.5M137.6 208.4h6M130.1 179.8h2.5M145.2 159.8h5M148.9 170.8h6M160.3 219.3h4M156.9 196.0h2.5M160.5 185.7h4M154.3 188.9h4M139.4 181.3h3M156.7 190.4h2.5M165.1 173.9h6M150.5 210.0h4M154.1 175.8h1.5M148.2 173.6h1.5M173.8 191.7h6M154.2 219.7h1.5M164.2 159.4h1.5M128.0 190.6h2.5M162.1 207.1h5M138.1 206.2h5M141.7 213.9h3M151.1 176.7h2M134.3 181.8h1.5M160.4 159.5h1.5M167.1 175.0h3M141.4 191.0h1.5M164.6 199.6h5M154.1 172.8h2M174.3 185.0h5M132.1 196.4h1.5M136.8 157.9h2M154.7 178.3h2.5M140.8 171.3h1.5M148.3 215.9h6M151.8 213.6h3M125.6 168.3h6M152.2 164.8h1.5M139.2 176.6h2" stroke="#4a60e8" stroke-opacity="0.22" stroke-width="1.1"/>
<path d="M217.6 210.5h3.5M63.0 207.1h1.5M149.8 160.1h1M40.5 158.2h1.5M225.5 170.8h2M262.1 177.7h3M194.6 163.0h2M53.6 186.9h2M224.6 193.3h2M281.4 167.1h3M154.6 167.5h1M208.4 217.5h3M200.3 175.5h2M149.0 213.9h3.5M105.7 220.0h2M216.2 180.6h3.5M142.2 180.1h3.5M256.2 214.8h2.5M199.0 188.3h3.5M206.3 158.0h1.5M264.1 198.1h2M261.9 201.5h2M166.2 162.0h1M191.6 204.7h1M83.9 211.0h1.5M223.2 215.1h3M180.4 172.1h3.5M61.6 197.2h2M171.7 161.9h2M227.9 177.2h2M119.0 174.6h2.5M121.9 206.1h1.5M71.0 164.8h1M124.9 190.3h2M90.0 200.7h2.5M110.0 165.8h1.5M77.6 178.8h1.5M200.9 199.5h1M127.9 179.4h2.5M154.5 181.8h1.5M105.4 184.0h3M51.5 214.9h1M67.6 209.8h2M171.4 164.7h2.5M281.6 203.3h3M263.2 159.4h1.5M169.9 191.5h3M280.0 215.6h2M185.0 204.9h1.5M44.4 193.1h2M186.8 217.7h1.5M252.3 194.9h1M261.0 167.5h3M210.7 214.5h3M58.6 213.0h1.5M176.2 196.5h2M204.0 164.5h3.5M165.1 179.0h1M108.5 205.2h2M114.7 158.4h2.5M140.7 196.0h1.5M278.9 163.3h3M85.8 159.3h3.5M43.7 206.5h2M213.9 174.5h2M203.3 173.8h1.5M235.7 183.6h1M194.7 178.4h3.5M275.7 191.7h2M50.2 207.7h1M119.0 172.8h3M212.0 188.4h1M239.6 191.8h1M213.1 214.6h1M272.3 217.6h3.5M58.0 201.5h1M155.3 195.5h2M151.4 179.9h2M127.5 213.2h2.5M150.7 196.2h2M155.4 197.9h3M132.1 206.9h2M158.4 206.0h5M143.9 168.7h2.5M154.2 164.4h6M136.5 171.7h2.5M116.4 158.6h2.5M137.7 180.9h3M137.0 215.4h1.5M135.8 182.9h6M146.5 182.2h3M166.9 189.6h2M179.1 195.6h2.5M146.7 217.1h5M160.4 174.4h2.5M174.8 207.7h6M157.6 165.1h2.5M143.4 202.1h1.5M144.3 193.3h2M157.1 166.6h1.5M155.4 218.7h3M178.0 187.8h1.5M139.4 186.5h4M165.8 191.2h3M150.3 218.8h1.5M158.6 159.3h4M117.7 160.0h3M155.9 191.5h1.5M149.8 169.0h2.5M145.0 178.7h2M117.0 198.4h6M166.4 167.4h4M142.8 184.9h1.5M125.8 216.3h4M163.4 176.6h1.5M171.1 206.3h2.5M156.8 163.2h3M166.3 218.9h3M175.0 198.5h3M160.6 172.7h6M175.7 187.0h2M152.7 173.0h2.5M171.8 208.8h2M137.1 207.1h2.5M141.0 187.4h6M147.6 180.1h4M151.7 191.3h4M121.0 176.4h3M126.9 175.7h4M182.7 215.6h1.5M172.6 219.3h2" stroke="#4a60e8" stroke-opacity="0.34" stroke-width="1.1"/>
<path d="M67.0 193.8h2M210.6 216.9h1M265.5 175.7h2M144.8 176.3h2M123.0 198.9h2M48.1 183.5h3.5M175.9 203.4h2M254.9 165.5h3.5M195.4 176.2h3M57.2 206.8h1.5M252.6 165.5h2M265.9 220.0h1M65.3 164.0h2M41.2 206.3h1M264.3 187.3h2.5M173.4 213.6h1M191.8 178.6h1M211.3 210.8h3M231.3 188.2h1M141.6 174.5h3.5M177.5 194.7h1M70.5 192.8h2.5M98.8 173.8h2M187.2 204.2h2M46.1 174.3h2.5M179.5 171.3h2M156.2 187.2h1.5M148.2 218.4h1M234.3 175.5h1.5M267.8 165.8h2M34.7 218.0h1M120.7 172.2h2M178.7 189.4h2M153.4 192.5h2M271.8 210.4h1M61.9 163.6h3M247.7 204.7h2.5M257.0 210.6h2.5M109.1 216.1h2M206.7 162.6h2M45.6 162.5h1M275.9 212.8h1M80.9 208.4h1M151.4 161.8h2.5M109.2 192.9h1M167.9 161.6h2M242.6 201.0h2.5M43.9 213.1h2M37.8 182.5h3.5M67.5 174.1h2M268.0 175.4h2M72.3 159.0h2M204.8 168.9h1M185.6 182.9h3M195.3 191.6h3M89.2 159.1h1M135.6 164.9h2.5M75.7 206.6h3M137.6 165.6h3.5M205.7 162.6h3.5M69.7 194.6h2M258.6 157.8h1M262.1 184.5h1.5M100.1 180.6h3.5M236.1 215.7h3M124.5 191.4h1M188.6 184.3h3M202.6 165.0h1.5M123.7 199.0h1.5M62.3 173.1h2M167.0 178.8h3M154.3 205.3h4M150.5 188.9h3M178.9 166.0h1.5M136.6 193.1h3M152.0 210.3h2M135.3 218.0h2M157.3 167.6h5M170.9 213.3h6M160.8 171.2h1.5M143.6 184.5h4M142.6 175.4h1.5M128.9 205.8h5M159.1 163.8h3M166.2 219.9h5M161.6 208.2h6M160.6 178.4h2M154.2 165.2h5M143.5 198.8h2.5M159.4 216.2h1.5M151.3 160.9h4M154.0 179.2h6M150.2 178.9h5M147.4 194.7h4M145.5 206.5h3M138.8 201.0h1.5M139.2 171.1h2M120.5 193.6h2M156.4 169.5h2.5M132.1 178.8h2.5M136.6 212.9h2M124.5 175.2h3M136.2 167.6h6M166.0 214.7h5M136.6 200.6h3M148.6 158.7h4M147.6 192.8h4M119.1 203.2h1.5M153.5 158.3h3M160.9 196.1h6M139.9 214.4h5M147.7 202.0h6M163.6 193.4h1.5M154.4 172.9h4M142.1 215.8h3M144.2 206.4h6M124.4 210.4h6M157.1 185.8h1.5M155.2 190.5h6M160.8 198.3h4M149.7 207.3h6M151.7 187.5h1.5M149.0 185.0h1.5M140.2 186.1h5M147.2 171.4h1.5M151.6 173.7h2.5M151.2 182.6h6" stroke="#4a60e8" stroke-opacity="0.5" stroke-width="1.1"/>
<rect x="31.5" y="156.4" width="254.2" height="65.6" fill="none" stroke="#ababab" stroke-width="1.1"/>
<path d="M94.50,140.60 C95.12,140.37 96.23,139.92 98.20,139.20 C100.17,138.48 103.82,137.47 106.30,136.30 C108.78,135.13 111.05,133.83 113.10,132.20 C115.15,130.57 117.00,128.67 118.60,126.50 C120.20,124.33 121.47,121.78 122.70,119.20 C123.93,116.62 124.87,113.38 126.00,111.00 C127.13,108.62 128.25,106.70 129.50,104.90 C130.75,103.10 132.15,101.48 133.50,100.20 C134.85,98.92 136.35,97.92 137.60,97.20 C138.85,96.48 134.77,96.12 141.00,95.90 C147.23,95.68 168.75,95.72 175.00,95.90 C181.25,96.08 177.07,96.28 178.50,97.00 C179.93,97.72 182.07,98.77 183.60,100.20 C185.13,101.63 186.45,103.57 187.70,105.60 C188.95,107.63 189.97,109.90 191.10,112.40 C192.23,114.90 193.25,118.10 194.50,120.60 C195.75,123.10 197.02,125.37 198.60,127.40 C200.18,129.43 201.97,131.33 204.00,132.80 C206.03,134.27 208.53,135.25 210.80,136.20 C213.07,137.15 215.73,137.77 217.60,138.50 C219.47,139.23 221.27,140.25 222.00,140.60" fill="none" stroke="#5a5a5a" stroke-width="0.9"/>
<path d="M105.00,221.50 C105.42,221.28 106.00,220.87 107.50,220.20 C109.00,219.53 111.83,218.73 114.00,217.50 C116.17,216.27 118.75,214.80 120.50,212.80 C122.25,210.80 123.37,208.47 124.50,205.50 C125.63,202.53 126.38,198.92 127.30,195.00 C128.22,191.08 129.18,185.63 130.00,182.00 C130.82,178.37 131.17,176.03 132.20,173.20 C133.23,170.37 134.82,167.17 136.20,165.00 C137.58,162.83 139.03,161.43 140.50,160.20 C141.97,158.97 143.75,158.15 145.00,157.60 C146.25,157.05 144.17,157.02 148.00,156.90 C151.83,156.78 164.42,156.85 168.00,156.90 C171.58,156.95 168.12,156.65 169.50,157.20 C170.88,157.75 174.25,158.57 176.30,160.20 C178.35,161.83 180.20,164.28 181.80,167.00 C183.40,169.72 184.77,173.33 185.90,176.50 C187.03,179.67 187.70,182.60 188.60,186.00 C189.50,189.40 190.40,193.50 191.30,196.90 C192.20,200.30 192.87,203.45 194.00,206.40 C195.13,209.35 196.28,212.50 198.10,214.60 C199.92,216.70 202.92,217.85 204.90,219.00 C206.88,220.15 209.15,221.08 210.00,221.50" fill="none" stroke="#5a5a5a" stroke-width="0.9"/>
<path d="M38,49.5 L130,36 L206,35.5 L283,49.5" fill="none" stroke="#777" stroke-width="0.7" stroke-dasharray="2 1.5" opacity="0.6"/>
<path d="M45,79.5 L94,75 L130.3,65.2 L187,65.5 L225.8,75 L280,79.5" fill="none" stroke="#777" stroke-width="0.7" stroke-dasharray="2 1.5" opacity="0.6"/>
<g stroke="#444" stroke-width="1">
<line x1="32.0" y1="222" x2="32.0" y2="226"/>
<line x1="158.6" y1="222" x2="158.6" y2="226"/>
<line x1="285.2" y1="222" x2="285.2" y2="226"/>
</g>
<text x="24.80" y="234.00" font-size="7.4" fill="#333" stroke="#333" stroke-width="0.08" textLength="14.90" lengthAdjust="spacingAndGlyphs" >-250</text>
<text x="156.40" y="234.00" font-size="7.4" fill="#333" stroke="#333" stroke-width="0.08" textLength="4.40" lengthAdjust="spacingAndGlyphs" >0</text>
<text x="277.30" y="234.00" font-size="7.4" fill="#333" stroke="#333" stroke-width="0.08" textLength="16.20" lengthAdjust="spacingAndGlyphs" >+250</text>
<text x="64.6" y="246" font-size="9.6" fill="#222" stroke="#222" stroke-width="0.32" textLength="189.5" lengthAdjust="spacingAndGlyphs">distance to <tspan font-style="italic">in vivo</tspan> promoter NFR center / bp</text>
<polyline points="340.70,87.78 340.84,87.78 340.84,79.86 340.98,79.86 340.98,79.86 341.12,79.86 341.12,79.86 341.26,79.86 341.26,60.06 341.40,60.06 341.40,60.06 341.55,60.06 341.55,60.06 341.69,60.06 341.69,60.06 341.83,60.06 341.83,60.06 341.97,60.06 341.97,60.06 342.11,60.06 342.11,60.06 342.25,60.06 342.25,60.06 342.39,60.06 342.39,60.06 342.53,60.06 342.53,87.78 342.67,87.78 342.67,87.78 342.81,87.78 342.81,60.06 342.96,60.06 342.96,60.06 343.10,60.06 343.10,60.06 343.24,60.06 343.24,60.06 343.38,60.06 343.38,95.70 343.52,95.70 343.52,95.70 343.66,95.70 343.66,83.82 343.80,83.82 343.80,83.82 343.94,83.82 343.94,95.70 344.08,95.70 344.08,95.70 344.22,95.70 344.22,95.70 344.37,95.70 344.37,95.70 344.51,95.70 344.51,75.90 344.65,75.90 344.65,75.90 344.79,75.90 344.79,83.82 344.93,83.82 344.93,95.70 345.07,95.70 345.07,95.70 345.21,95.70 345.21,52.14 345.35,52.14 345.35,52.14 345.49,52.14 345.49,52.14 345.63,52.14 345.63,52.14 345.78,52.14 345.78,83.82 345.92,83.82 345.92,79.86 346.06,79.86 346.06,79.86 346.20,79.86 346.20,40.26 346.34,40.26 346.34,40.26 346.48,40.26 346.48,40.26 346.62,40.26 346.62,40.26 346.76,40.26 346.76,40.26 346.90,40.26 346.90,40.26 347.05,40.26 347.05,40.26 347.19,40.26 347.19,75.90 347.33,75.90 347.33,75.90 347.47,75.90 347.47,79.86 347.61,79.86 347.61,87.78 347.75,87.78 347.75,87.78 347.89,87.78 347.89,95.70 348.03,95.70 348.03,95.70 348.17,95.70 348.17,79.86 348.31,79.86 348.31,79.86 348.45,79.86 348.45,91.74 348.60,91.74 348.60,91.74 348.74,91.74 348.74,75.90 348.88,75.90 348.88,64.02 349.02,64.02 349.02,64.02 349.16,64.02 349.16,64.02 349.30,64.02 349.30,64.02 349.44,64.02 349.44,64.02 349.58,64.02 349.58,64.02 349.72,64.02 349.72,64.02 349.87,64.02 349.87,64.02 350.01,64.02 350.01,64.02 350.15,64.02 350.15,95.70 350.29,95.70 350.29,95.70 350.43,95.70 350.43,87.78 350.57,87.78 350.57,87.78 350.71,87.78 350.71,87.78 350.85,87.78 350.85,87.78 350.99,87.78 350.99,79.86 351.13,79.86 351.13,79.86 351.27,79.86 351.27,79.86 351.42,79.86 351.42,83.82 351.56,83.82 351.56,48.18 351.70,48.18 351.70,48.18 351.84,48.18 351.84,48.18 351.98,48.18 351.98,48.18 352.12,48.18 352.12,48.18 352.26,48.18 352.26,48.18 352.40,48.18 352.40,48.18 352.54,48.18 352.54,91.74 352.69,91.74 352.69,91.74 352.83,91.74 352.83,91.74 352.97,91.74 352.97,95.70 353.11,95.70 353.11,95.70 353.25,95.70 353.25,95.70 353.39,95.70 353.39,95.70 353.53,95.70 353.53,87.78 353.67,87.78 353.67,83.82 353.81,83.82 353.81,83.82 353.95,83.82 353.95,83.82 354.09,83.82 354.09,87.78 354.24,87.78 354.24,95.70 354.38,95.70 354.38,95.70 354.52,95.70 354.52,79.86 354.66,79.86 354.66,79.86 354.80,79.86 354.80,44.22 354.94,44.22 354.94,44.22 355.08,44.22 355.08,44.22 355.22,44.22 355.22,44.22 355.36,44.22 355.36,44.22 355.50,44.22 355.50,44.22 355.65,44.22 355.65,95.70 355.79,95.70 355.79,95.70 355.93,95.70 355.93,95.70 356.07,95.70 356.07,95.70 356.21,95.70 356.21,87.78 356.35,87.78 356.35,87.78 356.49,87.78 356.49,87.78 356.63,87.78 356.63,87.78 356.77,87.78 356.77,95.70 356.91,95.70 356.91,60.06 357.06,60.06 357.06,60.06 357.20,60.06 357.20,60.06 357.34,60.06 357.34,60.06 357.48,60.06 357.48,60.06 357.62,60.06 357.62,60.06 357.76,60.06 357.76,60.06 357.90,60.06 357.90,79.86 358.04,79.86 358.04,83.82 358.18,83.82 358.18,83.82 358.32,83.82 358.32,83.82 358.47,83.82 358.47,95.70 358.61,95.70 358.61,87.78 358.75,87.78 358.75,95.70 358.89,95.70 358.89,95.70 359.03,95.70 359.03,83.82 359.17,83.82 359.17,91.74 359.31,91.74 359.31,83.82 359.45,83.82 359.45,83.82 359.59,83.82 359.59,83.82 359.74,83.82 359.74,79.86 359.88,79.86 359.88,79.86 360.02,79.86 360.02,79.86 360.16,79.86 360.16,95.70 360.30,95.70 360.30,79.86 360.44,79.86 360.44,79.86 360.58,79.86 360.58,79.86 360.72,79.86 360.72,95.70 360.86,95.70 360.86,95.70 361.00,95.70 361.00,44.22 361.14,44.22 361.14,44.22 361.29,44.22 361.29,44.22 361.43,44.22 361.43,44.22 361.57,44.22 361.57,44.22 361.71,44.22 361.71,44.22 361.85,44.22 361.85,44.22 361.99,44.22 361.99,44.22 362.13,44.22 362.13,83.82 362.27,83.82 362.27,83.82 362.41,83.82 362.41,83.82 362.56,83.82 362.56,83.82 362.70,83.82 362.70,83.82 362.84,83.82 362.84,71.94 362.98,71.94 362.98,71.94 363.12,71.94 363.12,71.94 363.26,71.94 363.26,71.94 363.40,71.94 363.40,71.94 363.54,71.94 363.54,71.94 363.68,71.94 363.68,71.94 363.82,71.94 363.82,91.74 363.96,91.74 363.96,91.74 364.11,91.74 364.11,91.74 364.25,91.74 364.25,83.82 364.39,83.82 364.39,95.70 364.53,95.70 364.53,95.70 364.67,95.70 364.67,79.86 364.81,79.86 364.81,79.86 364.95,79.86 364.95,79.86 365.09,79.86 365.09,40.26 365.23,40.26 365.23,40.26 365.38,40.26 365.38,40.26 365.52,40.26 365.52,40.26 365.66,40.26 365.66,40.26 365.80,40.26 365.80,40.26 365.94,40.26 365.94,40.26 366.08,40.26 366.08,40.26 366.22,40.26 366.22,40.26 366.36,40.26 366.36,87.78 366.50,87.78 366.50,95.70 366.64,95.70 366.64,87.78 366.78,87.78 366.78,87.78 366.93,87.78 366.93,87.78 367.07,87.78 367.07,87.78 367.21,87.78 367.21,79.86 367.35,79.86 367.35,79.86 367.49,79.86 367.49,79.86 367.63,79.86 367.63,95.70 367.77,95.70 367.77,95.70 367.91,95.70 367.91,95.70 368.05,95.70 368.05,75.90 368.19,75.90 368.19,71.94 368.34,71.94 368.34,79.86 368.48,79.86 368.48,79.86 368.62,79.86 368.62,83.82 368.76,83.82 368.76,83.82 368.90,83.82 368.90,87.78 369.04,87.78 369.04,83.82 369.18,83.82 369.18,83.82 369.32,83.82 369.32,87.78 369.46,87.78 369.46,87.78 369.60,87.78 369.60,71.94 369.75,71.94 369.75,71.94 369.89,71.94 369.89,71.94 370.03,71.94 370.03,75.90 370.17,75.90 370.17,75.90 370.31,75.90 370.31,75.90 370.45,75.90 370.45,67.98 370.59,67.98 370.59,67.98 370.73,67.98 370.73,67.98 370.87,67.98 370.87,67.98 371.01,67.98 371.01,67.98 371.16,67.98 371.16,67.98 371.30,67.98 371.30,67.98 371.44,67.98 371.44,67.98 371.58,67.98 371.58,67.98 371.72,67.98 371.72,83.82 371.86,83.82 371.86,83.82 372.00,83.82 372.00,83.82 372.14,83.82 372.14,95.70 372.28,95.70 372.28,95.70 372.43,95.70 372.43,75.90 372.57,75.90 372.57,75.90 372.71,75.90 372.71,75.90 372.85,75.90 372.85,87.78 372.99,87.78 372.99,87.78 373.13,87.78 373.13,87.78 373.27,87.78 373.27,95.70 373.41,95.70 373.41,87.78 373.55,87.78 373.55,87.78 373.69,87.78 373.69,48.18 373.83,48.18 373.83,48.18 373.98,48.18 373.98,48.18 374.12,48.18 374.12,48.18 374.26,48.18 374.26,48.18 374.40,48.18 374.40,48.18 374.54,48.18 374.54,48.18 374.68,48.18 374.68,48.18 374.82,48.18 374.82,75.90 374.96,75.90 374.96,75.90 375.10,75.90 375.10,56.10 375.25,56.10 375.25,56.10 375.39,56.10 375.39,56.10 375.53,56.10 375.53,56.10 375.67,56.10 375.67,56.10 375.81,56.10 375.81,56.10 375.95,56.10 375.95,56.10 376.09,56.10 376.09,56.10 376.23,56.10 376.23,56.10 376.37,56.10 376.37,75.90 376.51,75.90 376.51,75.90 376.65,75.90 376.65,75.90 376.80,75.90 376.80,79.86 376.94,79.86 376.94,79.86 377.08,79.86 377.08,75.90 377.22,75.90 377.22,83.82 377.36,83.82 377.36,83.82 377.50,83.82 377.50,79.86 377.64,79.86 377.64,79.86 377.78,79.86 377.78,95.70 377.92,95.70 377.92,79.86 378.06,79.86 378.06,87.78 378.21,87.78 378.21,95.70 378.35,95.70 378.35,95.70 378.49,95.70 378.49,87.78 378.63,87.78 378.63,87.78 378.77,87.78 378.77,95.70 378.91,95.70 378.91,95.70 379.05,95.70 379.05,95.70 379.19,95.70 379.19,79.86 379.33,79.86 379.33,79.86 379.48,79.86 379.48,95.70 379.62,95.70 379.62,95.70 379.76,95.70 379.76,83.82 379.90,83.82 379.90,83.82 380.04,83.82 380.04,83.82 380.18,83.82 380.18,87.78 380.32,87.78 380.32,95.70 380.46,95.70 380.46,95.70 380.60,95.70 380.60,87.78 380.74,87.78 380.74,95.70 380.88,95.70 380.88,95.70 381.03,95.70 381.03,91.74 381.17,91.74 381.17,91.74 381.31,91.74 381.31,91.74 381.45,91.74 381.45,83.82 381.59,83.82 381.59,91.74 381.73,91.74 381.73,91.74 381.87,91.74 381.87,79.86 382.01,79.86 382.01,48.18 382.15,48.18 382.15,48.18 382.29,48.18 382.29,48.18 382.44,48.18 382.44,48.18 382.58,48.18 382.58,48.18 382.72,48.18 382.72,48.18 382.86,48.18 382.86,87.78 383.00,87.78 383.00,87.78 383.14,87.78 383.14,56.10 383.28,56.10 383.28,56.10 383.42,56.10 383.42,56.10 383.56,56.10 383.56,56.10 383.70,56.10 383.70,56.10 383.85,56.10 383.85,79.86 383.99,79.86 383.99,79.86 384.13,79.86 384.13,79.86 384.27,79.86 384.27,95.70 384.41,95.70 384.41,95.70 384.55,95.70 384.55,95.70 384.69,95.70 384.69,95.70 384.83,95.70 384.83,75.90 384.97,75.90 384.97,75.90 385.12,75.90 385.12,75.90 385.26,75.90 385.26,75.90 385.40,75.90 385.40,75.90 385.54,75.90 385.54,75.90 385.68,75.90 385.68,75.90 385.82,75.90 385.82,75.90 385.96,75.90 385.96,87.78 386.10,87.78 386.10,83.82 386.24,83.82 386.24,95.70 386.38,95.70 386.38,95.70 386.52,95.70 386.52,87.78 386.67,87.78 386.67,79.86 386.81,79.86 386.81,87.78 386.95,87.78 386.95,87.78 387.09,87.78 387.09,87.78 387.23,87.78 387.23,91.74 387.37,91.74 387.37,91.74 387.51,91.74 387.51,83.82 387.65,83.82 387.65,83.82 387.79,83.82 387.79,87.78 387.94,87.78 387.94,83.82 388.08,83.82 388.08,87.78 388.22,87.78 388.22,87.78 388.36,87.78 388.36,87.78 388.50,87.78 388.50,87.78 388.64,87.78 388.64,87.78 388.78,87.78 388.78,87.78 388.92,87.78 388.92,87.78 389.06,87.78 389.06,91.74 389.20,91.74 389.20,91.74 389.34,91.74 389.34,91.74 389.49,91.74 389.49,91.74 389.63,91.74 389.63,83.82 389.77,83.82 389.77,83.82 389.91,83.82 389.91,83.82 390.05,83.82 390.05,83.82 390.19,83.82 390.19,91.74 390.33,91.74 390.33,91.74 390.47,91.74 390.47,91.74 390.61,91.74 390.61,79.86 390.75,79.86 390.75,83.82 390.90,83.82 390.90,87.78 391.04,87.78 391.04,87.78 391.18,87.78 391.18,87.78 391.32,87.78 391.32,91.74 391.46,91.74 391.46,91.74 391.60,91.74 391.60,91.74 391.74,91.74 391.74,83.82 391.88,83.82 391.88,87.78 392.02,87.78 392.02,83.82 392.16,83.82 392.16,83.82 392.31,83.82 392.31,87.78 392.45,87.78 392.45,83.82 392.59,83.82 392.59,83.82 392.73,83.82 392.73,95.70 392.87,95.70 392.87,95.70 393.01,95.70 393.01,91.74 393.15,91.74 393.15,83.82 393.29,83.82 393.29,83.82 393.43,83.82 393.43,83.82 393.57,83.82 393.57,95.70 393.72,95.70 393.72,95.70 393.86,95.70 393.86,95.70 394.00,95.70 394.00,95.70 394.14,95.70 394.14,95.70 394.28,95.70 394.28,83.82 394.42,83.82 394.42,91.74 394.56,91.74 394.56,95.70 394.70,95.70 394.70,95.70 394.84,95.70 394.84,91.74 394.99,91.74 394.99,83.82 395.13,83.82 395.13,87.78 395.27,87.78 395.27,87.78 395.41,87.78 395.41,95.70 395.55,95.70 395.55,95.70 395.69,95.70 395.69,83.82 395.83,83.82 395.83,87.78 395.97,87.78 395.97,95.70 396.11,95.70 396.11,95.70 396.25,95.70 396.25,83.82 396.39,83.82 396.39,83.82 396.54,83.82 396.54,83.82 396.68,83.82 396.68,87.78 396.82,87.78 396.82,87.78 396.96,87.78 396.96,91.74 397.10,91.74 397.10,95.70 397.24,95.70 397.24,95.70 397.38,95.70 397.38,95.70 397.52,95.70 397.52,91.74 397.66,91.74 397.66,91.74 397.81,91.74 397.81,87.78 397.95,87.78 397.95,87.78 398.09,87.78 398.09,87.78 398.23,87.78 398.23,87.78 398.37,87.78 398.37,87.78 398.51,87.78 398.51,95.70 398.65,95.70 398.65,91.74 398.79,91.74 398.79,91.74 398.93,91.74 398.93,64.02 399.07,64.02 399.07,64.02 399.21,64.02 399.21,64.02 399.36,64.02 399.36,64.02 399.50,64.02 399.50,64.02 399.64,64.02 399.64,64.02 399.78,64.02 399.78,64.02 399.92,64.02 399.92,64.02 400.06,64.02 400.06,87.78 400.20,87.78 400.20,87.78 400.34,87.78 400.34,87.78 400.48,87.78 400.48,87.78 400.62,87.78 400.62,87.78 400.77,87.78 400.77,79.86 400.91,79.86 400.91,79.86 401.05,79.86 401.05,79.86 401.19,79.86 401.19,71.94 401.33,71.94 401.33,71.94 401.47,71.94 401.47,71.94 401.61,71.94 401.61,71.94 401.75,71.94 401.75,71.94 401.89,71.94 401.89,71.94 402.03,71.94 402.03,71.94 402.18,71.94 402.18,87.78 402.32,87.78 402.32,87.78 402.46,87.78 402.46,91.74 402.60,91.74 402.60,91.74 402.74,91.74 402.74,91.74 402.88,91.74 402.88,83.82 403.02,83.82 403.02,83.82 403.16,83.82 403.16,95.70 403.30,95.70 403.30,87.78 403.44,87.78 403.44,87.78 403.59,87.78 403.59,83.82 403.73,83.82 403.73,87.78 403.87,87.78 403.87,87.78 404.01,87.78 404.01,87.78 404.15,87.78 404.15,87.78 404.29,87.78 404.29,91.74 404.43,91.74 404.43,83.82 404.57,83.82 404.57,83.82 404.71,83.82 404.71,83.82 404.86,83.82 404.86,87.78 405.00,87.78 405.00,87.78 405.14,87.78 405.14,87.78 405.28,87.78 405.28,83.82 405.42,83.82 405.42,83.82 405.56,83.82 405.56,95.70 405.70,95.70 405.70,95.70 405.84,95.70 405.84,91.74 405.98,91.74 405.98,91.74 406.12,91.74 406.12,91.74 406.26,91.74 406.26,95.70 406.41,95.70 406.41,95.70 406.55,95.70 406.55,83.82 406.69,83.82 406.69,87.78 406.83,87.78 406.83,87.78 406.97,87.78 406.97,87.78 407.11,87.78 407.11,95.70 407.25,95.70 407.25,95.70 407.39,95.70 407.39,95.70 407.53,95.70 407.53,95.70 407.67,95.70 407.67,95.70 407.82,95.70 407.82,95.70 407.96,95.70 407.96,87.78 408.10,87.78 408.10,87.78 408.24,87.78 408.24,87.78 408.38,87.78 408.38,83.82 408.52,83.82 408.52,83.82 408.66,83.82 408.66,95.70 408.80,95.70 408.80,87.78 408.94,87.78 408.94,87.78 409.08,87.78 409.08,87.78 409.23,87.78 409.23,95.70 409.37,95.70 409.37,95.70 409.51,95.70 409.51,95.70 409.65,95.70 409.65,87.78 409.79,87.78 409.79,87.78 409.93,87.78 409.93,91.74 410.07,91.74 410.07,87.78 410.21,87.78 410.21,87.78 410.35,87.78 410.35,83.82 410.50,83.82 410.50,83.82 410.64,83.82 410.64,95.70 410.78,95.70 410.78,95.70 410.92,95.70 410.92,83.82 411.06,83.82 411.06,83.82 411.20,83.82 411.20,83.82" fill="none" stroke="#ff2a2a" stroke-opacity="0.5" stroke-width="0.7"/>
<polyline points="340.70,91.74 340.84,91.74 340.84,91.74 340.98,91.74 340.98,87.78 341.12,87.78 341.12,87.78 341.26,87.78 341.26,91.74 341.40,91.74 341.40,91.74 341.55,91.74 341.55,87.78 341.69,87.78 341.69,95.70 341.83,95.70 341.83,83.82 341.97,83.82 341.97,83.82 342.11,83.82 342.11,83.82 342.25,83.82 342.25,91.74 342.39,91.74 342.39,87.78 342.53,87.78 342.53,87.78 342.67,87.78 342.67,87.78 342.81,87.78 342.81,87.78 342.96,87.78 342.96,91.74 343.10,91.74 343.10,91.74 343.24,91.74 343.24,95.70 343.38,95.70 343.38,87.78 343.52,87.78 343.52,91.74 343.66,91.74 343.66,91.74 343.80,91.74 343.80,91.74 343.94,91.74 343.94,91.74 344.08,91.74 344.08,91.74 344.22,91.74 344.22,95.70 344.37,95.70 344.37,95.70 344.51,95.70 344.51,87.78 344.65,87.78 344.65,95.70 344.79,95.70 344.79,95.70 344.93,95.70 344.93,87.78 345.07,87.78 345.07,83.82 345.21,83.82 345.21,83.82 345.35,83.82 345.35,83.82 345.49,83.82 345.49,91.74 345.63,91.74 345.63,95.70 345.78,95.70 345.78,95.70 345.92,95.70 345.92,87.78 346.06,87.78 346.06,87.78 346.20,87.78 346.20,87.78 346.34,87.78 346.34,67.98 346.48,67.98 346.48,67.98 346.62,67.98 346.62,67.98 346.76,67.98 346.76,67.98 346.90,67.98 346.90,67.98 347.05,67.98 347.05,67.98 347.19,67.98 347.19,67.98 347.33,67.98 347.33,67.98 347.47,67.98 347.47,87.78 347.61,87.78 347.61,91.74 347.75,91.74 347.75,91.74 347.89,91.74 347.89,91.74 348.03,91.74 348.03,91.74 348.17,91.74 348.17,91.74 348.31,91.74 348.31,95.70 348.45,95.70 348.45,95.70 348.60,95.70 348.60,83.82 348.74,83.82 348.74,91.74 348.88,91.74 348.88,91.74 349.02,91.74 349.02,91.74 349.16,91.74 349.16,83.82 349.30,83.82 349.30,83.82 349.44,83.82 349.44,83.82 349.58,83.82 349.58,83.82 349.72,83.82 349.72,95.70 349.87,95.70 349.87,95.70 350.01,95.70 350.01,95.70 350.15,95.70 350.15,83.82 350.29,83.82 350.29,83.82 350.43,83.82 350.43,95.70 350.57,95.70 350.57,95.70 350.71,95.70 350.71,95.70 350.85,95.70 350.85,83.82 350.99,83.82 350.99,91.74 351.13,91.74 351.13,91.74 351.27,91.74 351.27,87.78 351.42,87.78 351.42,95.70 351.56,95.70 351.56,95.70 351.70,95.70 351.70,95.70 351.84,95.70 351.84,87.78 351.98,87.78 351.98,91.74 352.12,91.74 352.12,87.78 352.26,87.78 352.26,91.74 352.40,91.74 352.40,91.74 352.54,91.74 352.54,87.78 352.69,87.78 352.69,87.78 352.83,87.78 352.83,95.70 352.97,95.70 352.97,95.70 353.11,95.70 353.11,95.70 353.25,95.70 353.25,83.82 353.39,83.82 353.39,83.82 353.53,83.82 353.53,83.82 353.67,83.82 353.67,83.82 353.81,83.82 353.81,83.82 353.95,83.82 353.95,83.82 354.09,83.82 354.09,91.74 354.24,91.74 354.24,91.74 354.38,91.74 354.38,91.74 354.52,91.74 354.52,91.74 354.66,91.74 354.66,83.82 354.80,83.82 354.80,83.82 354.94,83.82 354.94,83.82 355.08,83.82 355.08,83.82 355.22,83.82 355.22,91.74 355.36,91.74 355.36,91.74 355.50,91.74 355.50,91.74 355.65,91.74 355.65,91.74 355.79,91.74 355.79,83.82 355.93,83.82 355.93,83.82 356.07,83.82 356.07,91.74 356.21,91.74 356.21,83.82 356.35,83.82 356.35,83.82 356.49,83.82 356.49,83.82 356.63,83.82 356.63,87.78 356.77,87.78 356.77,87.78 356.91,87.78 356.91,87.78 357.06,87.78 357.06,87.78 357.20,87.78 357.20,87.78 357.34,87.78 357.34,83.82 357.48,83.82 357.48,83.82 357.62,83.82 357.62,83.82 357.76,83.82 357.76,87.78 357.90,87.78 357.90,91.74 358.04,91.74 358.04,95.70 358.18,95.70 358.18,95.70 358.32,95.70 358.32,91.74 358.47,91.74 358.47,91.74 358.61,91.74 358.61,87.78 358.75,87.78 358.75,91.74 358.89,91.74 358.89,91.74 359.03,91.74 359.03,56.10 359.17,56.10 359.17,56.10 359.31,56.10 359.31,56.10 359.45,56.10 359.45,56.10 359.59,56.10 359.59,56.10 359.74,56.10 359.74,79.86 359.88,79.86 359.88,79.86 360.02,79.86 360.02,79.86 360.16,79.86 360.16,95.70 360.30,95.70 360.30,95.70 360.44,95.70 360.44,75.90 360.58,75.90 360.58,91.74 360.72,91.74 360.72,79.86 360.86,79.86 360.86,79.86 361.00,79.86 361.00,91.74 361.14,91.74 361.14,91.74 361.29,91.74 361.29,79.86 361.43,79.86 361.43,79.86 361.57,79.86 361.57,91.74 361.71,91.74 361.71,91.74 361.85,91.74 361.85,75.90 361.99,75.90 361.99,75.90 362.13,75.90 362.13,83.82 362.27,83.82 362.27,83.82 362.41,83.82 362.41,87.78 362.56,87.78 362.56,87.78 362.70,87.78 362.70,75.90 362.84,75.90 362.84,75.90 362.98,75.90 362.98,79.86 363.12,79.86 363.12,95.70 363.26,95.70 363.26,75.90 363.40,75.90 363.40,75.90 363.54,75.90 363.54,95.70 363.68,95.70 363.68,95.70 363.82,95.70 363.82,95.70 363.96,95.70 363.96,79.86 364.11,79.86 364.11,79.86 364.25,79.86 364.25,79.86 364.39,79.86 364.39,75.90 364.53,75.90 364.53,71.94 364.67,71.94 364.67,87.78 364.81,87.78 364.81,87.78 364.95,87.78 364.95,87.78 365.09,87.78 365.09,79.86 365.23,79.86 365.23,79.86 365.38,79.86 365.38,95.70 365.52,95.70 365.52,95.70 365.66,95.70 365.66,95.70 365.80,95.70 365.80,75.90 365.94,75.90 365.94,79.86 366.08,79.86 366.08,71.94 366.22,71.94 366.22,71.94 366.36,71.94 366.36,83.82 366.50,83.82 366.50,83.82 366.64,83.82 366.64,83.82 366.78,83.82 366.78,83.82 366.93,83.82 366.93,95.70 367.07,95.70 367.07,95.70 367.21,95.70 367.21,95.70 367.35,95.70 367.35,95.70 367.49,95.70 367.49,79.86 367.63,79.86 367.63,79.86 367.77,79.86 367.77,95.70 367.91,95.70 367.91,95.70 368.05,95.70 368.05,75.90 368.19,75.90 368.19,87.78 368.34,87.78 368.34,87.78 368.48,87.78 368.48,83.82 368.62,83.82 368.62,95.70 368.76,95.70 368.76,95.70 368.90,95.70 368.90,67.98 369.04,67.98 369.04,67.98 369.18,67.98 369.18,95.70 369.32,95.70 369.32,95.70 369.46,95.70 369.46,95.70 369.60,95.70 369.60,75.90 369.75,75.90 369.75,67.98 369.89,67.98 369.89,67.98 370.03,67.98 370.03,67.98 370.17,67.98 370.17,67.98 370.31,67.98 370.31,75.90 370.45,75.90 370.45,75.90 370.59,75.90 370.59,95.70 370.73,95.70 370.73,83.82 370.87,83.82 370.87,60.06 371.01,60.06 371.01,71.94 371.16,71.94 371.16,71.94 371.30,71.94 371.30,71.94 371.44,71.94 371.44,71.94 371.58,71.94 371.58,71.94 371.72,71.94 371.72,71.94 371.86,71.94 371.86,71.94 372.00,71.94 372.00,71.94 372.14,71.94 372.14,64.02 372.28,64.02 372.28,67.98 372.43,67.98 372.43,71.94 372.57,71.94 372.57,71.94 372.71,71.94 372.71,71.94 372.85,71.94 372.85,71.94 372.99,71.94 372.99,71.94 373.13,71.94 373.13,71.94 373.27,71.94 373.27,52.14 373.41,52.14 373.41,95.70 373.55,95.70 373.55,67.98 373.69,67.98 373.69,67.98 373.83,67.98 373.83,95.70 373.98,95.70 373.98,95.70 374.12,95.70 374.12,83.82 374.26,83.82 374.26,67.98 374.40,67.98 374.40,56.10 374.54,56.10 374.54,56.10 374.68,56.10 374.68,56.10 374.82,56.10 374.82,56.10 374.96,56.10 374.96,56.10 375.10,56.10 375.10,56.10 375.25,56.10 375.25,56.10 375.39,56.10 375.39,83.82 375.53,83.82 375.53,83.82 375.67,83.82 375.67,83.82 375.81,83.82 375.81,67.98 375.95,67.98 375.95,67.98 376.09,67.98 376.09,71.94 376.23,71.94 376.23,71.94 376.37,71.94 376.37,71.94 376.51,71.94 376.51,71.94 376.65,71.94 376.65,71.94 376.80,71.94 376.80,71.94 376.94,71.94 376.94,71.94 377.08,71.94 377.08,95.70 377.22,95.70 377.22,95.70 377.36,95.70 377.36,56.10 377.50,56.10 377.50,64.02 377.64,64.02 377.64,64.02 377.78,64.02 377.78,64.02 377.92,64.02 377.92,64.02 378.06,64.02 378.06,64.02 378.21,64.02 378.21,64.02 378.35,64.02 378.35,64.02 378.49,64.02 378.49,64.02 378.63,64.02 378.63,60.06 378.77,60.06 378.77,60.06 378.91,60.06 378.91,60.06 379.05,60.06 379.05,60.06 379.19,60.06 379.19,60.06 379.33,60.06 379.33,60.06 379.48,60.06 379.48,60.06 379.62,60.06 379.62,60.06 379.76,60.06 379.76,95.70 379.90,95.70 379.90,95.70 380.04,95.70 380.04,95.70 380.18,95.70 380.18,75.90 380.32,75.90 380.32,87.78 380.46,87.78 380.46,71.94 380.60,71.94 380.60,95.70 380.74,95.70 380.74,95.70 380.88,95.70 380.88,95.70 381.03,95.70 381.03,95.70 381.17,95.70 381.17,95.70 381.31,95.70 381.31,91.74 381.45,91.74 381.45,91.74 381.59,91.74 381.59,91.74 381.73,91.74 381.73,75.90 381.87,75.90 381.87,75.90 382.01,75.90 382.01,83.82 382.15,83.82 382.15,83.82 382.29,83.82 382.29,87.78 382.44,87.78 382.44,87.78 382.58,87.78 382.58,87.78 382.72,87.78 382.72,95.70 382.86,95.70 382.86,95.70 383.00,95.70 383.00,79.86 383.14,79.86 383.14,79.86 383.28,79.86 383.28,87.78 383.42,87.78 383.42,79.86 383.56,79.86 383.56,79.86 383.70,79.86 383.70,83.82 383.85,83.82 383.85,83.82 383.99,83.82 383.99,87.78 384.13,87.78 384.13,87.78 384.27,87.78 384.27,87.78 384.41,87.78 384.41,87.78 384.55,87.78 384.55,48.18 384.69,48.18 384.69,48.18 384.83,48.18 384.83,48.18 384.97,48.18 384.97,48.18 385.12,48.18 385.12,48.18 385.26,48.18 385.26,48.18 385.40,48.18 385.40,48.18 385.54,48.18 385.54,48.18 385.68,48.18 385.68,48.18 385.82,48.18 385.82,79.86 385.96,79.86 385.96,83.82 386.10,83.82 386.10,83.82 386.24,83.82 386.24,83.82 386.38,83.82 386.38,83.82 386.52,83.82 386.52,83.82 386.67,83.82 386.67,87.78 386.81,87.78 386.81,91.74 386.95,91.74 386.95,91.74 387.09,91.74 387.09,64.02 387.23,64.02 387.23,64.02 387.37,64.02 387.37,64.02 387.51,64.02 387.51,64.02 387.65,64.02 387.65,64.02 387.79,64.02 387.79,95.70 387.94,95.70 387.94,83.82 388.08,83.82 388.08,83.82 388.22,83.82 388.22,91.74 388.36,91.74 388.36,91.74 388.50,91.74 388.50,83.82 388.64,83.82 388.64,83.82 388.78,83.82 388.78,87.78 388.92,87.78 388.92,83.82 389.06,83.82 389.06,83.82 389.20,83.82 389.20,95.70 389.34,95.70 389.34,95.70 389.49,95.70 389.49,95.70 389.63,95.70 389.63,91.74 389.77,91.74 389.77,91.74 389.91,91.74 389.91,91.74 390.05,91.74 390.05,95.70 390.19,95.70 390.19,95.70 390.33,95.70 390.33,83.82 390.47,83.82 390.47,83.82 390.61,83.82 390.61,83.82 390.75,83.82 390.75,87.78 390.90,87.78 390.90,95.70 391.04,95.70 391.04,87.78 391.18,87.78 391.18,87.78 391.32,87.78 391.32,83.82 391.46,83.82 391.46,83.82 391.60,83.82 391.60,87.78 391.74,87.78 391.74,83.82 391.88,83.82 391.88,87.78 392.02,87.78 392.02,87.78 392.16,87.78 392.16,87.78 392.31,87.78 392.31,87.78 392.45,87.78 392.45,91.74 392.59,91.74 392.59,91.74 392.73,91.74 392.73,83.82 392.87,83.82 392.87,83.82 393.01,83.82 393.01,83.82 393.15,83.82 393.15,91.74 393.29,91.74 393.29,91.74 393.43,91.74 393.43,83.82 393.57,83.82 393.57,83.82 393.72,83.82 393.72,91.74 393.86,91.74 393.86,91.74 394.00,91.74 394.00,91.74 394.14,91.74 394.14,91.74 394.28,91.74 394.28,91.74 394.42,91.74 394.42,91.74 394.56,91.74 394.56,87.78 394.70,87.78 394.70,83.82 394.84,83.82 394.84,83.82 394.99,83.82 394.99,83.82 395.13,83.82 395.13,83.82 395.27,83.82 395.27,87.78 395.41,87.78 395.41,87.78 395.55,87.78 395.55,87.78 395.69,87.78 395.69,83.82 395.83,83.82 395.83,87.78 395.97,87.78 395.97,87.78 396.11,87.78 396.11,87.78 396.25,87.78 396.25,87.78 396.39,87.78 396.39,95.70 396.54,95.70 396.54,83.82 396.68,83.82 396.68,83.82 396.82,83.82 396.82,91.74 396.96,91.74 396.96,91.74 397.10,91.74 397.10,91.74 397.24,91.74 397.24,87.78 397.38,87.78 397.38,95.70 397.52,95.70 397.52,83.82 397.66,83.82 397.66,83.82 397.81,83.82 397.81,83.82 397.95,83.82 397.95,83.82 398.09,83.82 398.09,83.82 398.23,83.82 398.23,87.78 398.37,87.78 398.37,87.78 398.51,87.78 398.51,87.78 398.65,87.78 398.65,87.78 398.79,87.78 398.79,91.74 398.93,91.74 398.93,91.74 399.07,91.74 399.07,91.74 399.21,91.74 399.21,91.74 399.36,91.74 399.36,95.70 399.50,95.70 399.50,95.70 399.64,95.70 399.64,95.70 399.78,95.70 399.78,87.78 399.92,87.78 399.92,87.78 400.06,87.78 400.06,83.82 400.20,83.82 400.20,83.82 400.34,83.82 400.34,83.82 400.48,83.82 400.48,87.78 400.62,87.78 400.62,87.78 400.77,87.78 400.77,83.82 400.91,83.82 400.91,83.82 401.05,83.82 401.05,83.82 401.19,83.82 401.19,87.78 401.33,87.78 401.33,95.70 401.47,95.70 401.47,95.70 401.61,95.70 401.61,95.70 401.75,95.70 401.75,87.78 401.89,87.78 401.89,87.78 402.03,87.78 402.03,91.74 402.18,91.74 402.18,83.82 402.32,83.82 402.32,95.70 402.46,95.70 402.46,95.70 402.60,95.70 402.60,95.70 402.74,95.70 402.74,95.70 402.88,95.70 402.88,95.70 403.02,95.70 403.02,87.78 403.16,87.78 403.16,87.78 403.30,87.78 403.30,87.78 403.44,87.78 403.44,83.82 403.59,83.82 403.59,83.82 403.73,83.82 403.73,83.82 403.87,83.82 403.87,83.82 404.01,83.82 404.01,83.82 404.15,83.82 404.15,95.70 404.29,95.70 404.29,95.70 404.43,95.70 404.43,95.70 404.57,95.70 404.57,95.70 404.71,95.70 404.71,83.82 404.86,83.82 404.86,95.70 405.00,95.70 405.00,91.74 405.14,91.74 405.14,91.74 405.28,91.74 405.28,91.74 405.42,91.74 405.42,87.78 405.56,87.78 405.56,87.78 405.70,87.78 405.70,87.78 405.84,87.78 405.84,87.78 405.98,87.78 405.98,83.82 406.12,83.82 406.12,83.82 406.26,83.82 406.26,83.82 406.41,83.82 406.41,95.70 406.55,95.70 406.55,95.70 406.69,95.70 406.69,87.78 406.83,87.78 406.83,87.78 406.97,87.78 406.97,87.78 407.11,87.78 407.11,87.78 407.25,87.78 407.25,95.70 407.39,95.70 407.39,95.70 407.53,95.70 407.53,87.78 407.67,87.78 407.67,87.78 407.82,87.78 407.82,87.78 407.96,87.78 407.96,87.78 408.10,87.78 408.10,87.78 408.24,87.78 408.24,91.74 408.38,91.74 408.38,91.74 408.52,91.74 408.52,87.78 408.66,87.78 408.66,87.78 408.80,87.78 408.80,83.82 408.94,83.82 408.94,95.70 409.08,95.70 409.08,95.70 409.23,95.70 409.23,95.70 409.37,95.70 409.37,91.74 409.51,91.74 409.51,91.74 409.65,91.74 409.65,95.70 409.79,95.70 409.79,87.78 409.93,87.78 409.93,87.78 410.07,87.78 410.07,83.82 410.21,83.82 410.21,83.82 410.35,83.82 410.35,83.82 410.50,83.82 410.50,87.78 410.64,87.78 410.64,91.74 410.78,91.74 410.78,83.82 410.92,83.82 410.92,83.82 411.06,83.82 411.06,91.74 411.20,91.74 411.20,91.74" fill="none" stroke="#2a2aff" stroke-opacity="0.5" stroke-width="0.7"/>
<rect x="337.5" y="34.2" width="76.3" height="63.8" fill="none" stroke="#b4b4b4" stroke-width="1"/>
<g stroke="#999" stroke-width="0.6"><line x1="336.2" y1="36.30" x2="336.2" y2="95.70"/>
<line x1="333.6" y1="95.70" x2="336.2" y2="95.70"/>
<line x1="333.6" y1="83.82" x2="336.2" y2="83.82"/>
<line x1="333.6" y1="71.94" x2="336.2" y2="71.94"/>
<line x1="333.6" y1="60.06" x2="336.2" y2="60.06"/>
<line x1="333.6" y1="48.18" x2="336.2" y2="48.18"/>
<line x1="333.6" y1="36.30" x2="336.2" y2="36.30"/>
<line x1="340.70" y1="98.00" x2="340.70" y2="100.70"/>
<line x1="375.95" y1="98.00" x2="375.95" y2="100.70"/>
<line x1="411.20" y1="98.00" x2="411.20" y2="100.70"/>
</g>
<text transform="translate(332.4,95.70) rotate(-90)" text-anchor="middle" font-size="7.6" fill="#333" stroke="#333" stroke-width="0.08">0</text>
<text transform="translate(332.4,71.94) rotate(-90)" text-anchor="middle" font-size="7.6" fill="#333" stroke="#333" stroke-width="0.08">2</text>
<text transform="translate(332.4,48.18) rotate(-90)" text-anchor="middle" font-size="7.6" fill="#333" stroke="#333" stroke-width="0.08">4</text>
<text x="395.90" y="47.80" font-size="9.9" fill="#222" stroke="#222" stroke-width="0.1" textLength="11.40" lengthAdjust="spacingAndGlyphs" >RP</text>
<polyline points="340.70,164.17 341.12,162.19 341.55,162.21 341.97,171.81 342.39,161.64 342.81,162.17 343.24,158.75 343.66,155.52 344.08,156.05 344.51,158.03 344.93,163.70 345.35,164.05 345.78,158.64 346.20,171.81 346.62,169.12 347.05,155.81 347.47,162.51 347.89,167.92 348.31,161.46 348.74,158.26 349.16,167.12 349.58,158.90 350.01,171.74 350.43,161.36 350.85,161.73 351.27,152.37 351.70,163.10 352.12,161.35 352.54,165.96 352.97,159.44 353.39,153.30 353.81,157.35 354.24,162.53 354.66,157.88 355.08,156.34 355.50,163.65 355.93,156.11 356.35,169.72 356.77,164.04 357.20,163.57 357.62,169.15 358.04,159.67 358.47,164.08 358.89,150.11 359.31,168.13 359.74,161.61 360.16,163.56 360.58,156.12 361.00,160.66 361.43,161.69 361.85,146.29 362.27,160.70 362.70,158.49 363.12,160.39 363.54,162.52 363.96,164.38 364.39,161.91 364.81,156.28 365.23,160.35 365.66,161.57 366.08,163.58 366.50,159.61 366.93,160.29 367.35,157.13 367.77,155.67 368.19,159.18 368.62,150.36 369.04,162.12 369.46,156.48 369.89,157.17 370.31,160.57 370.73,155.62 371.16,152.85 371.58,154.17 372.00,145.06 372.43,148.95 372.85,154.38 373.27,150.44 373.69,144.47 374.12,144.96 374.54,144.99 374.96,139.92 375.39,148.34 375.81,143.07 376.23,142.43 376.65,135.42 377.08,141.07 377.50,138.29 377.92,139.02 378.35,133.79 378.77,139.78 379.19,138.33 379.62,137.52 380.04,141.27 380.46,134.72 380.88,144.55 381.31,142.00 381.73,142.66 382.15,147.27 382.58,144.39 383.00,152.15 383.42,153.03 383.85,158.58 384.27,153.91 384.69,157.86 385.12,149.78 385.54,158.07 385.96,152.66 386.38,148.63 386.81,157.50 387.23,163.14 387.65,160.68 388.08,157.53 388.50,154.69 388.92,156.31 389.34,155.48 389.77,158.54 390.19,161.18 390.61,161.58 391.04,166.44 391.46,156.05 391.88,158.62 392.31,151.83 392.73,159.23 393.15,167.88 393.57,154.35 394.00,155.75 394.42,161.20 394.84,160.27 395.27,161.91 395.69,152.76 396.11,161.51 396.54,157.57 396.96,163.41 397.38,152.86 397.81,159.49 398.23,158.38 398.65,159.62 399.07,160.96 399.50,157.19 399.92,160.00 400.34,159.83 400.77,165.15 401.19,160.57 401.61,171.80 402.03,160.31 402.46,161.63 402.88,156.48 403.30,164.13 403.73,159.04 404.15,166.73 404.57,155.16 405.00,161.31 405.42,157.89 405.84,161.93 406.26,159.35 406.69,159.49 407.11,159.69 407.53,164.89 407.96,158.20 408.38,166.00 408.80,164.44 409.23,159.49 409.65,163.85 410.07,163.10 410.50,155.63 410.92,161.69" fill="none" stroke="#ff2a2a" stroke-opacity="0.6" stroke-width="0.85"/>
<polyline points="340.70,151.16 341.12,155.23 341.55,168.64 341.97,157.56 342.39,156.84 342.81,158.19 343.24,152.40 343.66,156.37 344.08,152.21 344.51,162.36 344.93,156.17 345.35,154.62 345.78,160.26 346.20,161.51 346.62,148.84 347.05,160.37 347.47,169.48 347.89,147.31 348.31,158.80 348.74,162.32 349.16,152.34 349.58,160.66 350.01,154.01 350.43,148.32 350.85,158.45 351.27,152.51 351.70,163.06 352.12,153.95 352.54,158.92 352.97,158.70 353.39,161.42 353.81,157.74 354.24,146.19 354.66,162.61 355.08,155.70 355.50,157.86 355.93,153.29 356.35,162.69 356.77,162.44 357.20,160.67 357.62,159.79 358.04,144.67 358.47,165.73 358.89,160.97 359.31,147.70 359.74,159.25 360.16,160.97 360.58,158.24 361.00,155.80 361.43,160.29 361.85,153.67 362.27,156.39 362.70,152.09 363.12,140.57 363.54,160.15 363.96,152.02 364.39,148.28 364.81,138.39 365.23,154.64 365.66,137.88 366.08,146.14 366.50,149.43 366.93,135.76 367.35,144.29 367.77,137.06 368.19,152.39 368.62,131.89 369.04,160.91 369.46,139.76 369.89,133.13 370.31,135.11 370.73,119.78 371.16,129.29 371.58,141.37 372.00,142.24 372.43,127.93 372.85,140.56 373.27,124.99 373.69,127.34 374.12,122.06 374.54,136.64 374.96,123.03 375.39,133.86 375.81,142.45 376.23,155.09 376.65,113.89 377.08,131.99 377.50,132.32 377.92,113.00 378.35,144.67 378.77,133.39 379.19,137.29 379.62,115.07 380.04,146.69 380.46,130.58 380.88,139.11 381.31,137.99 381.73,147.41 382.15,146.77 382.58,138.99 383.00,144.89 383.42,154.37 383.85,157.91 384.27,143.66 384.69,161.84 385.12,167.02 385.54,151.37 385.96,153.91 386.38,147.80 386.81,150.10 387.23,159.12 387.65,146.65 388.08,154.42 388.50,153.20 388.92,158.35 389.34,149.83 389.77,157.61 390.19,158.16 390.61,167.13 391.04,152.24 391.46,158.11 391.88,155.65 392.31,151.76 392.73,151.15 393.15,145.56 393.57,151.11 394.00,153.87 394.42,151.66 394.84,152.67 395.27,157.81 395.69,149.21 396.11,150.66 396.54,169.67 396.96,149.58 397.38,155.64 397.81,152.39 398.23,153.04 398.65,149.50 399.07,160.56 399.50,158.99 399.92,168.24 400.34,151.74 400.77,157.82 401.19,158.48 401.61,171.81 402.03,153.96 402.46,164.77 402.88,158.20 403.30,156.58 403.73,153.89 404.15,166.32 404.57,163.26 405.00,155.04 405.42,160.77 405.84,160.57 406.26,162.57 406.69,160.91 407.11,167.09 407.53,171.81 407.96,155.87 408.38,158.86 408.80,160.29 409.23,166.95 409.65,164.18 410.07,168.78 410.50,157.53 410.92,154.34" fill="none" stroke="#2a2aff" stroke-opacity="0.6" stroke-width="0.85"/>
<rect x="337.5" y="110.9" width="76.3" height="63.8" fill="none" stroke="#b4b4b4" stroke-width="1"/>
<g stroke="#999" stroke-width="0.6"><line x1="336.2" y1="113.00" x2="336.2" y2="172.40"/>
<line x1="333.6" y1="172.40" x2="336.2" y2="172.40"/>
<line x1="333.6" y1="160.52" x2="336.2" y2="160.52"/>
<line x1="333.6" y1="148.64" x2="336.2" y2="148.64"/>
<line x1="333.6" y1="136.76" x2="336.2" y2="136.76"/>
<line x1="333.6" y1="124.88" x2="336.2" y2="124.88"/>
<line x1="333.6" y1="113.00" x2="336.2" y2="113.00"/>
<line x1="340.70" y1="174.70" x2="340.70" y2="177.40"/>
<line x1="375.95" y1="174.70" x2="375.95" y2="177.40"/>
<line x1="411.20" y1="174.70" x2="411.20" y2="177.40"/>
</g>
<text transform="translate(332.4,172.40) rotate(-90)" text-anchor="middle" font-size="7.6" fill="#333" stroke="#333" stroke-width="0.08">0</text>
<text transform="translate(332.4,148.64) rotate(-90)" text-anchor="middle" font-size="7.6" fill="#333" stroke="#333" stroke-width="0.08">2</text>
<text transform="translate(332.4,124.88) rotate(-90)" text-anchor="middle" font-size="7.6" fill="#333" stroke="#333" stroke-width="0.08">4</text>
<text x="388.70" y="125.60" font-size="9.9" fill="#222" stroke="#222" stroke-width="0.1" textLength="18.60" lengthAdjust="spacingAndGlyphs" >STM</text>
<polyline points="340.70,242.09 340.98,243.33 341.26,235.75 341.55,239.91 341.83,236.87 342.11,239.74 342.39,238.06 342.67,241.07 342.96,241.56 343.24,235.62 343.52,239.21 343.80,237.06 344.08,239.10 344.37,237.36 344.65,239.92 344.93,242.48 345.21,240.28 345.49,236.88 345.78,241.98 346.06,241.28 346.34,237.84 346.62,238.74 346.90,236.11 347.19,241.10 347.47,238.48 347.75,243.58 348.03,241.64 348.31,236.46 348.60,236.10 348.88,240.10 349.16,239.64 349.44,238.17 349.72,238.11 350.01,238.94 350.29,235.10 350.57,240.18 350.85,242.37 351.13,239.40 351.42,239.66 351.70,233.91 351.98,241.97 352.26,237.93 352.54,242.35 352.83,240.63 353.11,238.99 353.39,241.24 353.67,241.57 353.95,240.06 354.24,239.02 354.52,236.72 354.80,238.67 355.08,241.68 355.36,239.63 355.65,240.52 355.93,241.58 356.21,240.54 356.49,241.07 356.77,241.88 357.06,235.63 357.34,240.58 357.62,234.53 357.90,240.36 358.18,242.22 358.47,234.73 358.75,239.59 359.03,237.06 359.31,237.63 359.59,238.13 359.88,241.90 360.16,239.96 360.44,245.40 360.72,237.65 361.00,242.14 361.29,243.57 361.57,243.35 361.85,238.56 362.13,238.56 362.41,241.28 362.70,244.92 362.98,239.82 363.26,241.90 363.54,240.86 363.82,241.46 364.11,241.24 364.39,241.40 364.67,240.40 364.95,242.07 365.23,245.57 365.52,239.18 365.80,242.78 366.08,242.70 366.36,243.70 366.64,246.00 366.93,244.38 367.21,240.87 367.49,241.13 367.77,247.67 368.05,242.43 368.34,241.92 368.62,244.16 368.90,242.04 369.18,243.55 369.46,241.68 369.75,243.60 370.03,240.62 370.31,244.67 370.59,243.09 370.87,239.69 371.16,243.57 371.44,239.80 371.72,240.72 372.00,241.18 372.28,243.20 372.57,238.13 372.85,240.35 373.13,246.40 373.41,240.72 373.69,244.08 373.98,240.52 374.26,241.05 374.54,237.01 374.82,234.80 375.10,234.61 375.39,231.59 375.67,223.25 375.95,222.13 376.23,219.40 376.51,215.10 376.80,215.90 377.08,207.44 377.36,206.03 377.64,210.80 377.92,204.54 378.21,207.97 378.49,212.73 378.77,213.00 379.05,215.76 379.33,219.39 379.62,220.20 379.90,218.27 380.18,222.55 380.46,224.10 380.74,223.10 381.03,225.77 381.31,224.64 381.59,229.36 381.87,226.61 382.15,228.83 382.44,230.91 382.72,230.41 383.00,231.50 383.28,231.62 383.56,228.75 383.85,229.62 384.13,234.84 384.41,231.31 384.69,237.24 384.97,235.26 385.26,235.23 385.54,235.24 385.82,234.64 386.10,232.73 386.38,228.08 386.67,235.67 386.95,239.77 387.23,235.13 387.51,238.01 387.79,235.63 388.08,238.72 388.36,239.33 388.64,235.60 388.92,236.46 389.20,237.77 389.49,236.06 389.77,235.69 390.05,237.39 390.33,235.77 390.61,236.50 390.90,236.52 391.18,238.17 391.46,238.69 391.74,237.11 392.02,237.03 392.31,238.50 392.59,237.93 392.87,234.89 393.15,243.83 393.43,239.24 393.72,234.72 394.00,236.57 394.28,237.48 394.56,236.68 394.84,239.01 395.13,240.68 395.41,236.22 395.69,244.22 395.97,242.73 396.25,240.90 396.54,236.77 396.82,239.26 397.10,238.03 397.38,241.27 397.66,239.78 397.95,238.63 398.23,242.07 398.51,239.60 398.79,235.51 399.07,237.71 399.36,242.33 399.64,238.07 399.92,238.37 400.20,238.90 400.48,242.86 400.77,241.00 401.05,242.33 401.33,240.60 401.61,243.36 401.89,241.25 402.18,237.60 402.46,239.40 402.74,240.32 403.02,239.45 403.30,237.99 403.59,238.74 403.87,237.97 404.15,241.07 404.43,238.90 404.71,238.18 405.00,243.29 405.28,238.97 405.56,238.30 405.84,237.97 406.12,236.97 406.41,235.75 406.69,235.80 406.97,235.86 407.25,236.00 407.53,237.16 407.82,236.81 408.10,242.56 408.38,239.32 408.66,239.41 408.94,238.00 409.23,236.31 409.51,236.31 409.79,240.61 410.07,240.95 410.35,239.66 410.64,239.92 410.92,242.69 411.20,236.25" fill="none" stroke="#ff2a2a" stroke-opacity="0.6" stroke-width="0.85"/>
<polyline points="340.70,240.20 340.98,237.66 341.26,237.64 341.55,238.74 341.83,239.02 342.11,242.45 342.39,237.31 342.67,236.06 342.96,240.07 343.24,239.45 343.52,242.64 343.80,238.74 344.08,239.46 344.37,232.25 344.65,235.43 344.93,236.84 345.21,232.84 345.49,238.94 345.78,238.59 346.06,239.44 346.34,231.61 346.62,240.62 346.90,237.87 347.19,235.68 347.47,237.46 347.75,238.78 348.03,237.26 348.31,235.68 348.60,240.40 348.88,236.55 349.16,239.46 349.44,237.44 349.72,238.43 350.01,237.86 350.29,235.83 350.57,231.71 350.85,236.18 351.13,238.96 351.42,237.86 351.70,234.24 351.98,235.05 352.26,235.43 352.54,234.82 352.83,238.92 353.11,235.64 353.39,236.30 353.67,233.85 353.95,237.75 354.24,236.70 354.52,237.10 354.80,239.55 355.08,235.32 355.36,238.71 355.65,242.61 355.93,236.55 356.21,236.62 356.49,236.22 356.77,237.74 357.06,238.12 357.34,237.84 357.62,234.64 357.90,235.17 358.18,236.75 358.47,235.83 358.75,233.72 359.03,236.12 359.31,239.95 359.59,235.87 359.88,236.20 360.16,233.61 360.44,233.24 360.72,234.97 361.00,231.14 361.29,231.47 361.57,232.99 361.85,228.74 362.13,231.27 362.41,234.89 362.70,235.73 362.98,234.68 363.26,235.60 363.54,229.96 363.82,231.82 364.11,229.09 364.39,232.03 364.67,227.86 364.95,227.66 365.23,224.01 365.52,225.72 365.80,227.31 366.08,226.60 366.36,221.73 366.64,224.01 366.93,220.12 367.21,220.37 367.49,218.57 367.77,220.54 368.05,220.02 368.34,221.29 368.62,220.31 368.90,219.44 369.18,221.00 369.46,217.16 369.75,216.79 370.03,213.45 370.31,219.56 370.59,212.69 370.87,214.82 371.16,212.86 371.44,213.83 371.72,211.41 372.00,210.41 372.28,209.57 372.57,206.20 372.85,197.95 373.13,204.90 373.41,196.26 373.69,191.32 373.98,190.62 374.26,190.27 374.54,191.70 374.82,191.47 375.10,194.58 375.39,190.27 375.67,197.48 375.95,200.62 376.23,208.13 376.51,208.57 376.80,216.95 377.08,218.56 377.36,220.40 377.64,228.28 377.92,226.55 378.21,226.90 378.49,231.89 378.77,233.31 379.05,233.47 379.33,229.02 379.62,233.60 379.90,235.95 380.18,232.93 380.46,232.37 380.74,235.49 381.03,234.46 381.31,238.90 381.59,238.75 381.87,235.30 382.15,233.50 382.44,235.93 382.72,237.81 383.00,237.79 383.28,241.57 383.56,235.21 383.85,243.09 384.13,238.51 384.41,235.12 384.69,241.12 384.97,237.11 385.26,239.64 385.54,241.22 385.82,239.63 386.10,236.39 386.38,239.54 386.67,242.16 386.95,241.59 387.23,236.41 387.51,241.64 387.79,244.13 388.08,237.92 388.36,238.72 388.64,241.05 388.92,241.07 389.20,239.14 389.49,237.91 389.77,241.54 390.05,240.25 390.33,242.63 390.61,238.40 390.90,241.91 391.18,240.62 391.46,241.12 391.74,240.40 392.02,242.51 392.31,238.72 392.59,242.80 392.87,237.79 393.15,237.02 393.43,240.69 393.72,243.76 394.00,243.81 394.28,241.85 394.56,236.56 394.84,239.39 395.13,239.69 395.41,237.91 395.69,238.91 395.97,240.91 396.25,241.68 396.54,235.97 396.82,242.10 397.10,240.09 397.38,234.19 397.66,237.78 397.95,234.56 398.23,238.39 398.51,237.94 398.79,233.08 399.07,230.84 399.36,235.53 399.64,233.53 399.92,229.50 400.20,235.03 400.48,232.29 400.77,228.20 401.05,232.04 401.33,234.92 401.61,236.18 401.89,235.44 402.18,237.60 402.46,239.46 402.74,233.29 403.02,237.39 403.30,235.06 403.59,237.33 403.87,237.86 404.15,233.69 404.43,235.04 404.71,238.18 405.00,236.76 405.28,236.62 405.56,239.03 405.84,236.49 406.12,235.04 406.41,236.47 406.69,239.32 406.97,238.53 407.25,230.70 407.53,240.01 407.82,236.59 408.10,240.05 408.38,240.57 408.66,239.33 408.94,234.75 409.23,237.07 409.51,234.17 409.79,235.17 410.07,239.99 410.35,237.11 410.64,238.45 410.92,237.38 411.20,232.13" fill="none" stroke="#2a2aff" stroke-opacity="0.6" stroke-width="0.85"/>
<rect x="337.5" y="187.0" width="76.3" height="63.8" fill="none" stroke="#b4b4b4" stroke-width="1"/>
<g stroke="#999" stroke-width="0.6"><line x1="336.2" y1="189.10" x2="336.2" y2="248.50"/>
<line x1="333.6" y1="248.50" x2="336.2" y2="248.50"/>
<line x1="333.6" y1="236.62" x2="336.2" y2="236.62"/>
<line x1="333.6" y1="224.74" x2="336.2" y2="224.74"/>
<line x1="333.6" y1="212.86" x2="336.2" y2="212.86"/>
<line x1="333.6" y1="200.98" x2="336.2" y2="200.98"/>
<line x1="333.6" y1="189.10" x2="336.2" y2="189.10"/>
<line x1="340.70" y1="250.80" x2="340.70" y2="253.50"/>
<line x1="375.95" y1="250.80" x2="375.95" y2="253.50"/>
<line x1="411.20" y1="250.80" x2="411.20" y2="253.50"/>
</g>
<text transform="translate(332.4,248.50) rotate(-90)" text-anchor="middle" font-size="7.6" fill="#333" stroke="#333" stroke-width="0.08">0</text>
<text transform="translate(332.4,224.74) rotate(-90)" text-anchor="middle" font-size="7.6" fill="#333" stroke="#333" stroke-width="0.08">2</text>
<text transform="translate(332.4,200.98) rotate(-90)" text-anchor="middle" font-size="7.6" fill="#333" stroke="#333" stroke-width="0.08">4</text>
<text x="391.40" y="200.40" font-size="9.9" fill="#222" stroke="#222" stroke-width="0.1" textLength="15.90" lengthAdjust="spacingAndGlyphs" >TFO</text>
<polyline points="340.70,319.79 340.98,314.51 341.26,319.21 341.55,318.89 341.83,315.95 342.11,316.17 342.39,317.95 342.67,312.40 342.96,317.44 343.24,320.42 343.52,317.45 343.80,313.45 344.08,315.33 344.37,317.33 344.65,315.21 344.93,316.21 345.21,315.34 345.49,316.77 345.78,316.08 346.06,318.35 346.34,319.78 346.62,315.37 346.90,314.59 347.19,311.37 347.47,314.90 347.75,311.60 348.03,320.93 348.31,316.92 348.60,318.97 348.88,314.80 349.16,319.03 349.44,313.63 349.72,313.62 350.01,312.10 350.29,315.93 350.57,316.47 350.85,317.03 351.13,316.20 351.42,315.15 351.70,310.59 351.98,313.67 352.26,311.61 352.54,315.77 352.83,312.94 353.11,312.52 353.39,315.08 353.67,312.05 353.95,310.81 354.24,312.30 354.52,318.36 354.80,314.97 355.08,314.29 355.36,306.79 355.65,314.38 355.93,312.66 356.21,315.42 356.49,312.89 356.77,317.08 357.06,315.04 357.34,321.16 357.62,314.18 357.90,319.67 358.18,316.65 358.47,312.66 358.75,313.47 359.03,316.21 359.31,313.86 359.59,316.19 359.88,319.72 360.16,316.07 360.44,317.08 360.72,318.19 361.00,316.73 361.29,314.24 361.57,317.72 361.85,314.64 362.13,319.80 362.41,317.64 362.70,320.58 362.98,323.47 363.26,315.68 363.54,317.45 363.82,321.16 364.11,319.28 364.39,323.14 364.67,321.43 364.95,320.11 365.23,317.77 365.52,323.94 365.80,319.08 366.08,320.76 366.36,324.24 366.64,321.98 366.93,319.48 367.21,323.53 367.49,321.73 367.77,323.10 368.05,320.53 368.34,318.42 368.62,324.51 368.90,318.07 369.18,324.16 369.46,321.73 369.75,319.17 370.03,321.93 370.31,323.09 370.59,322.63 370.87,320.15 371.16,316.49 371.44,322.40 371.72,319.74 372.00,323.68 372.28,323.03 372.57,319.27 372.85,319.88 373.13,318.83 373.41,319.16 373.69,320.21 373.98,314.56 374.26,313.45 374.54,318.01 374.82,318.15 375.10,319.27 375.39,314.96 375.67,311.68 375.95,313.78 376.23,309.09 376.51,305.34 376.80,296.62 377.08,293.13 377.36,282.13 377.64,278.39 377.92,268.04 378.21,262.96 378.49,262.73 378.77,262.73 379.05,267.59 379.33,265.77 379.62,269.95 379.90,283.57 380.18,282.23 380.46,285.43 380.74,288.95 381.03,287.38 381.31,295.40 381.59,293.21 381.87,299.07 382.15,294.39 382.44,298.56 382.72,297.79 383.00,299.86 383.28,305.42 383.56,304.24 383.85,302.56 384.13,309.96 384.41,302.19 384.69,304.39 384.97,304.75 385.26,308.67 385.54,307.35 385.82,309.11 386.10,300.78 386.38,305.17 386.67,303.68 386.95,308.44 387.23,307.88 387.51,310.60 387.79,309.68 388.08,308.20 388.36,311.60 388.64,306.58 388.92,313.79 389.20,309.68 389.49,310.34 389.77,309.14 390.05,311.74 390.33,311.50 390.61,312.71 390.90,310.06 391.18,314.09 391.46,313.85 391.74,315.41 392.02,314.03 392.31,311.09 392.59,315.34 392.87,311.38 393.15,314.25 393.43,317.10 393.72,314.95 394.00,316.89 394.28,314.86 394.56,318.64 394.84,313.85 395.13,316.59 395.41,313.85 395.69,315.34 395.97,312.58 396.25,316.28 396.54,317.43 396.82,312.90 397.10,314.55 397.38,314.67 397.66,313.87 397.95,313.50 398.23,314.39 398.51,313.53 398.79,316.03 399.07,316.52 399.36,320.01 399.64,317.98 399.92,316.57 400.20,316.77 400.48,318.14 400.77,314.53 401.05,316.35 401.33,318.36 401.61,315.55 401.89,318.12 402.18,314.71 402.46,318.96 402.74,312.99 403.02,316.40 403.30,314.90 403.59,318.69 403.87,317.07 404.15,318.57 404.43,315.84 404.71,314.79 405.00,316.72 405.28,315.25 405.56,316.84 405.84,314.13 406.12,320.50 406.41,315.38 406.69,317.78 406.97,315.64 407.25,316.61 407.53,315.60 407.82,317.71 408.10,314.66 408.38,315.47 408.66,316.49 408.94,315.02 409.23,316.12 409.51,313.31 409.79,313.58 410.07,309.52 410.35,309.08 410.64,311.40 410.92,312.23 411.20,314.46" fill="none" stroke="#ff2a2a" stroke-opacity="0.6" stroke-width="0.85"/>
<polyline points="340.70,319.64 340.98,312.75 341.26,318.22 341.55,318.01 341.83,322.35 342.11,318.43 342.39,319.01 342.67,316.88 342.96,318.44 343.24,314.59 343.52,319.34 343.80,319.99 344.08,317.27 344.37,315.99 344.65,317.22 344.93,316.41 345.21,317.06 345.49,317.63 345.78,318.14 346.06,317.22 346.34,318.46 346.62,320.95 346.90,318.18 347.19,317.89 347.47,318.94 347.75,315.30 348.03,318.75 348.31,317.79 348.60,318.34 348.88,319.63 349.16,319.47 349.44,314.51 349.72,317.68 350.01,318.84 350.29,319.34 350.57,317.50 350.85,320.58 351.13,319.81 351.42,322.21 351.70,319.45 351.98,320.64 352.26,314.65 352.54,320.52 352.83,320.22 353.11,319.37 353.39,315.69 353.67,317.78 353.95,319.85 354.24,317.15 354.52,317.21 354.80,318.73 355.08,318.93 355.36,314.42 355.65,317.54 355.93,319.43 356.21,314.52 356.49,316.46 356.77,316.89 357.06,316.98 357.34,318.29 357.62,315.14 357.90,316.27 358.18,315.92 358.47,319.04 358.75,313.91 359.03,317.87 359.31,314.06 359.59,318.87 359.88,311.39 360.16,317.26 360.44,313.82 360.72,314.68 361.00,315.94 361.29,311.28 361.57,312.87 361.85,312.12 362.13,310.59 362.41,308.26 362.70,313.50 362.98,307.85 363.26,312.92 363.54,311.39 363.82,308.96 364.11,309.76 364.39,312.05 364.67,306.86 364.95,304.44 365.23,308.19 365.52,308.31 365.80,308.66 366.08,298.31 366.36,305.99 366.64,300.65 366.93,300.33 367.21,303.10 367.49,300.85 367.77,300.72 368.05,298.83 368.34,301.79 368.62,301.03 368.90,299.85 369.18,300.02 369.46,299.08 369.75,293.86 370.03,296.50 370.31,293.37 370.59,290.36 370.87,282.86 371.16,281.41 371.44,281.07 371.72,276.96 372.00,271.45 372.28,270.26 372.57,272.58 372.85,273.39 373.13,272.37 373.41,280.48 373.69,280.81 373.98,290.84 374.26,293.11 374.54,296.83 374.82,300.10 375.10,303.74 375.39,307.01 375.67,308.24 375.95,314.10 376.23,311.37 376.51,311.73 376.80,314.29 377.08,312.49 377.36,315.78 377.64,321.39 377.92,318.58 378.21,317.55 378.49,318.90 378.77,319.47 379.05,319.06 379.33,322.13 379.62,319.02 379.90,320.04 380.18,317.45 380.46,321.73 380.74,319.81 381.03,322.36 381.31,319.31 381.59,318.68 381.87,319.73 382.15,316.81 382.44,318.57 382.72,317.98 383.00,322.66 383.28,322.80 383.56,324.51 383.85,320.74 384.13,323.33 384.41,320.73 384.69,322.14 384.97,318.48 385.26,319.74 385.54,318.54 385.82,318.93 386.10,318.06 386.38,319.33 386.67,320.46 386.95,319.65 387.23,318.88 387.51,319.20 387.79,321.25 388.08,317.68 388.36,318.18 388.64,318.08 388.92,320.67 389.20,318.89 389.49,319.08 389.77,320.68 390.05,319.77 390.33,323.62 390.61,321.90 390.90,320.26 391.18,319.67 391.46,320.68 391.74,319.03 392.02,317.49 392.31,313.69 392.59,320.24 392.87,318.59 393.15,319.52 393.43,322.39 393.72,320.08 394.00,321.71 394.28,319.97 394.56,317.76 394.84,319.48 395.13,321.31 395.41,319.14 395.69,323.81 395.97,318.91 396.25,320.20 396.54,318.95 396.82,321.68 397.10,318.03 397.38,315.90 397.66,320.31 397.95,319.63 398.23,321.98 398.51,317.49 398.79,319.69 399.07,318.39 399.36,317.17 399.64,315.75 399.92,320.24 400.20,319.97 400.48,317.83 400.77,318.82 401.05,317.45 401.33,316.29 401.61,315.46 401.89,320.22 402.18,318.75 402.46,315.20 402.74,315.00 403.02,315.37 403.30,314.76 403.59,317.09 403.87,313.83 404.15,322.73 404.43,319.79 404.71,320.24 405.00,321.58 405.28,317.79 405.56,322.43 405.84,318.09 406.12,316.93 406.41,319.55 406.69,322.94 406.97,317.96 407.25,316.86 407.53,320.27 407.82,317.11 408.10,318.51 408.38,319.13 408.66,320.65 408.94,320.91 409.23,320.45 409.51,318.61 409.79,316.08 410.07,316.93 410.35,321.49 410.64,320.34 410.92,318.11 411.20,318.63" fill="none" stroke="#2a2aff" stroke-opacity="0.6" stroke-width="0.85"/>
<rect x="337.5" y="263.6" width="76.3" height="63.8" fill="none" stroke="#b4b4b4" stroke-width="1"/>
<g stroke="#999" stroke-width="0.6"><line x1="336.2" y1="265.70" x2="336.2" y2="325.10"/>
<line x1="333.6" y1="325.10" x2="336.2" y2="325.10"/>
<line x1="333.6" y1="313.22" x2="336.2" y2="313.22"/>
<line x1="333.6" y1="301.34" x2="336.2" y2="301.34"/>
<line x1="333.6" y1="289.46" x2="336.2" y2="289.46"/>
<line x1="333.6" y1="277.58" x2="336.2" y2="277.58"/>
<line x1="333.6" y1="265.70" x2="336.2" y2="265.70"/>
<line x1="340.70" y1="327.40" x2="340.70" y2="330.10"/>
<line x1="375.95" y1="327.40" x2="375.95" y2="330.10"/>
<line x1="411.20" y1="327.40" x2="411.20" y2="330.10"/>
</g>
<text transform="translate(332.4,325.10) rotate(-90)" text-anchor="middle" font-size="7.6" fill="#333" stroke="#333" stroke-width="0.08">0</text>
<text transform="translate(332.4,301.34) rotate(-90)" text-anchor="middle" font-size="7.6" fill="#333" stroke="#333" stroke-width="0.08">2</text>
<text transform="translate(332.4,277.58) rotate(-90)" text-anchor="middle" font-size="7.6" fill="#333" stroke="#333" stroke-width="0.08">4</text>
<text x="388.50" y="277.90" font-size="9.9" fill="#222" stroke="#222" stroke-width="0.1" textLength="18.80" lengthAdjust="spacingAndGlyphs" >UNB</text>
<text x="333.50" y="337.70" font-size="7.4" fill="#333" stroke="#333" stroke-width="0.08" textLength="14.60" lengthAdjust="spacingAndGlyphs" >-250</text>
<text x="374.40" y="337.70" font-size="7.4" fill="#333" stroke="#333" stroke-width="0.08" textLength="4.10" lengthAdjust="spacingAndGlyphs" >0</text>
<text x="403.50" y="337.70" font-size="7.4" fill="#333" stroke="#333" stroke-width="0.08" textLength="15.90" lengthAdjust="spacingAndGlyphs" >+250</text>
<text x="316" y="349.1" font-size="9.6" fill="#222" stroke="#222" stroke-width="0.32" textLength="119.3" lengthAdjust="spacingAndGlyphs">distance to <tspan font-style="italic">in vivo</tspan> promoter</text>
<text x="342.50" y="361.80" font-size="9.6" fill="#222" stroke="#222" stroke-width="0.32" textLength="66.60" lengthAdjust="spacingAndGlyphs" >NFR center / bp</text>
<text transform="translate(306.7,217.3) rotate(-90)" font-size="9.6" fill="#3a5ae8" stroke="#3a5ae8" stroke-width="0.32" textLength="70.3" lengthAdjust="spacingAndGlyphs">poly(dT)<tspan font-size="7.2" dy="1.6">n≥5</tspan><tspan dy="-1.6"> score</tspan></text>
<text transform="translate(317.5,217.3) rotate(-90)" font-size="9.6" fill="#f0503a" stroke="#f0503a" stroke-width="0.32" textLength="71.1" lengthAdjust="spacingAndGlyphs">poly(dA)<tspan font-size="7.2" dy="1.6">n≥5</tspan><tspan dy="-1.6"> score</tspan></text>
<g stroke="#555" stroke-width="0.8">
<line x1="74" y1="297.6" x2="74" y2="457.6"/>
<line x1="68.5" y1="457.60" x2="74" y2="457.60"/>
<line x1="68.5" y1="425.60" x2="74" y2="425.60"/>
<line x1="68.5" y1="393.60" x2="74" y2="393.60"/>
<line x1="68.5" y1="361.60" x2="74" y2="361.60"/>
<line x1="68.5" y1="329.60" x2="74" y2="329.60"/>
<line x1="68.5" y1="297.60" x2="74" y2="297.60"/>
</g>
<text transform="translate(61.0,457.60) rotate(-90)" text-anchor="middle" font-size="7.6" fill="#333" stroke="#333" stroke-width="0.08">0</text>
<text transform="translate(61.0,425.60) rotate(-90)" text-anchor="middle" font-size="7.6" fill="#333" stroke="#333" stroke-width="0.08">20</text>
<text transform="translate(61.0,393.60) rotate(-90)" text-anchor="middle" font-size="7.6" fill="#333" stroke="#333" stroke-width="0.08">40</text>
<text transform="translate(61.0,361.60) rotate(-90)" text-anchor="middle" font-size="7.6" fill="#333" stroke="#333" stroke-width="0.08">60</text>
<text transform="translate(61.0,329.60) rotate(-90)" text-anchor="middle" font-size="7.6" fill="#333" stroke="#333" stroke-width="0.08">80</text>
<text transform="translate(61.0,297.60) rotate(-90)" text-anchor="middle" font-size="7.6" fill="#333" stroke="#333" stroke-width="0.08">100</text>
<text transform="translate(42.3,420.9) rotate(-90)" font-size="12.7" fill="#222" stroke="#222" stroke-width="0.08" textLength="85.9" lengthAdjust="spacingAndGlyphs">% of promoters</text>
<rect x="92.5" y="297.3" width="43.4" height="51" fill="none" stroke="#555" stroke-width="0.8"/>
<rect x="100" y="305.20" width="6" height="5.2" fill="#4d4d4d" stroke="#333" stroke-width="0.7"/>
<text x="113.80" y="310.50" font-size="8.2" fill="#222" stroke="#222" stroke-width="0.15" textLength="10.20" lengthAdjust="spacingAndGlyphs" >RP</text>
<rect x="100" y="315.25" width="6" height="5.2" fill="#999999" stroke="#333" stroke-width="0.7"/>
<text x="113.80" y="320.55" font-size="8.2" fill="#222" stroke="#222" stroke-width="0.15" textLength="17.30" lengthAdjust="spacingAndGlyphs" >STM</text>
<rect x="100" y="325.30" width="6" height="5.2" fill="#bfbfbf" stroke="#333" stroke-width="0.7"/>
<text x="113.80" y="330.60" font-size="8.2" fill="#222" stroke="#222" stroke-width="0.15" textLength="16.50" lengthAdjust="spacingAndGlyphs" >TFO</text>
<rect x="100" y="335.35" width="6" height="5.2" fill="#e6e6e6" stroke="#333" stroke-width="0.7"/>
<text x="113.80" y="340.65" font-size="8.2" fill="#222" stroke="#222" stroke-width="0.15" textLength="17.30" lengthAdjust="spacingAndGlyphs" >UNB</text>
<rect x="80.40" y="421.76" width="9.45" height="35.84" fill="#4d4d4d" stroke="#333" stroke-width="0.8"/>
<rect x="89.85" y="428.32" width="9.45" height="29.28" fill="#999999" stroke="#333" stroke-width="0.8"/>
<rect x="99.30" y="419.20" width="9.45" height="38.40" fill="#bfbfbf" stroke="#333" stroke-width="0.8"/>
<rect x="108.75" y="401.60" width="9.45" height="56.00" fill="#e6e6e6" stroke="#333" stroke-width="0.8"/>
<rect x="126.80" y="440.80" width="9.45" height="16.80" fill="#4d4d4d" stroke="#333" stroke-width="0.8"/>
<rect x="136.25" y="424.32" width="9.45" height="33.28" fill="#999999" stroke="#333" stroke-width="0.8"/>
<rect x="145.70" y="409.44" width="9.45" height="48.16" fill="#bfbfbf" stroke="#333" stroke-width="0.8"/>
<rect x="155.15" y="392.96" width="9.45" height="64.64" fill="#e6e6e6" stroke="#333" stroke-width="0.8"/>
<rect x="173.00" y="446.08" width="9.45" height="11.52" fill="#4d4d4d" stroke="#333" stroke-width="0.8"/>
<rect x="182.45" y="443.36" width="9.45" height="14.24" fill="#999999" stroke="#333" stroke-width="0.8"/>
<rect x="191.90" y="439.36" width="9.45" height="18.24" fill="#bfbfbf" stroke="#333" stroke-width="0.8"/>
<rect x="201.35" y="425.12" width="9.45" height="32.48" fill="#e6e6e6" stroke="#333" stroke-width="0.8"/>
<rect x="219.60" y="416.16" width="9.45" height="41.44" fill="#4d4d4d" stroke="#333" stroke-width="0.8"/>
<rect x="229.05" y="409.44" width="9.45" height="48.16" fill="#999999" stroke="#333" stroke-width="0.8"/>
<rect x="238.50" y="389.28" width="9.45" height="68.32" fill="#bfbfbf" stroke="#333" stroke-width="0.8"/>
<rect x="247.95" y="369.44" width="9.45" height="88.16" fill="#e6e6e6" stroke="#333" stroke-width="0.8"/>
<g stroke="#111" stroke-width="1.7">
<line x1="81" y1="374.8" x2="160" y2="374.8"/>
<line x1="168.4" y1="374.8" x2="210.6" y2="374.8"/>
<line x1="214.1" y1="355.7" x2="255.8" y2="355.7"/>
</g>
<text x="86.10" y="367.10" font-size="8.0" fill="#333" stroke="#333" stroke-width="0.08" textLength="67.80" lengthAdjust="spacingAndGlyphs" >one– or two–sided</text>
<text x="170.30" y="367.20" font-size="8.0" fill="#333" stroke="#333" stroke-width="0.08" textLength="38.10" lengthAdjust="spacingAndGlyphs" >two–sided</text>
<text x="220.90" y="336.50" font-size="8.0" fill="#333" stroke="#333" stroke-width="0.08" textLength="27.60" lengthAdjust="spacingAndGlyphs" >one– or</text>
<text x="216.00" y="346.80" font-size="8.0" fill="#333" stroke="#333" stroke-width="0.08" textLength="37.30" lengthAdjust="spacingAndGlyphs" >two–sided</text>
<text x="79.55" y="470.60" font-size="7.8" fill="#222" stroke="#222" stroke-width="0.22" textLength="34.30" lengthAdjust="spacingAndGlyphs" >5′ poly(dT)</text>
<text x="74.45" y="480.00" font-size="7.8" fill="#222" stroke="#222" stroke-width="0.22" textLength="44.50" lengthAdjust="spacingAndGlyphs" >no 5′ poly(dA)</text>
<text x="74.60" y="489.60" font-size="7.8" fill="#222" stroke="#222" stroke-width="0.22" textLength="44.20" lengthAdjust="spacingAndGlyphs" >no 3′ poly(dT)</text>
<text x="128.85" y="470.60" font-size="7.8" fill="#222" stroke="#222" stroke-width="0.22" textLength="32.30" lengthAdjust="spacingAndGlyphs" >3′ poly(dA)</text>
<text x="123.30" y="480.00" font-size="7.8" fill="#222" stroke="#222" stroke-width="0.22" textLength="43.40" lengthAdjust="spacingAndGlyphs" >no 5′ poly(dA)</text>
<text x="123.30" y="489.60" font-size="7.8" fill="#222" stroke="#222" stroke-width="0.22" textLength="43.40" lengthAdjust="spacingAndGlyphs" >no 3′ poly(dT)</text>
<text x="171.05" y="470.60" font-size="7.8" fill="#222" stroke="#222" stroke-width="0.22" textLength="33.90" lengthAdjust="spacingAndGlyphs" >5′ poly(dT)</text>
<text x="181.90" y="480.00" font-size="7.8" fill="#222" stroke="#222" stroke-width="0.22" textLength="12.20" lengthAdjust="spacingAndGlyphs" >and</text>
<text x="171.05" y="489.60" font-size="7.8" fill="#222" stroke="#222" stroke-width="0.22" textLength="33.90" lengthAdjust="spacingAndGlyphs" >3′ poly(dA)</text>
<text x="165.45" y="499.00" font-size="7.8" fill="#222" stroke="#222" stroke-width="0.22" textLength="45.10" lengthAdjust="spacingAndGlyphs" >no 5′ poly(dA)</text>
<text x="165.45" y="508.40" font-size="7.8" fill="#222" stroke="#222" stroke-width="0.22" textLength="45.10" lengthAdjust="spacingAndGlyphs" >no 3′ poly(dT)</text>
<text x="222.55" y="470.60" font-size="7.8" fill="#222" stroke="#222" stroke-width="0.22" textLength="33.90" lengthAdjust="spacingAndGlyphs" >5′ poly(dT)</text>
<text x="228.80" y="480.00" font-size="7.8" fill="#222" stroke="#222" stroke-width="0.22" textLength="21.40" lengthAdjust="spacingAndGlyphs" >and/or</text>
<text x="222.55" y="489.60" font-size="7.8" fill="#222" stroke="#222" stroke-width="0.22" textLength="33.90" lengthAdjust="spacingAndGlyphs" >3′ poly(dA)</text>
<text x="217.00" y="499.00" font-size="7.8" fill="#222" stroke="#222" stroke-width="0.22" textLength="45.00" lengthAdjust="spacingAndGlyphs" >no 5′ poly(dA)</text>
<text x="217.00" y="508.40" font-size="7.8" fill="#222" stroke="#222" stroke-width="0.22" textLength="45.00" lengthAdjust="spacingAndGlyphs" >no 3′ poly(dT)</text>
<path d="M72.0,515.0 V517.7 H261.6 V515.0" fill="none" stroke="#111" stroke-width="1.8"/>
<text x="69.5" y="531.6" font-size="10.4" fill="#222" stroke="#222" stroke-width="0.24" textLength="203.2" lengthAdjust="spacingAndGlyphs">arrangement of poly(dA)/poly(dT) within <tspan font-style="italic">in vivo</tspan></text>
<text x="85.00" y="543.80" font-size="10.4" fill="#222" stroke="#222" stroke-width="0.24" textLength="174.00" lengthAdjust="spacingAndGlyphs" >promoter NFR and relative to NFR center</text>
<text x="285.70" y="388.00" font-size="9.8" fill="#222" stroke="#222" stroke-width="0.14" textLength="86.80" lengthAdjust="spacingAndGlyphs" >relative to promoter</text>
<text x="306.00" y="400.40" font-size="10.2" fill="#222" stroke="#222" stroke-width="0.14" textLength="46.60" lengthAdjust="spacingAndGlyphs" >NFR center</text>
<text x="288.60" y="412.90" font-size="10.4" fill="#222" stroke="#222" stroke-width="0.1" textLength="8.40" lengthAdjust="spacingAndGlyphs" >5′</text>
<text x="362.00" y="412.90" font-size="10.4" fill="#222" stroke="#222" stroke-width="0.1" textLength="7.60" lengthAdjust="spacingAndGlyphs" >3′</text>
<line x1="330" y1="408.9" x2="330" y2="522" stroke="#000" stroke-width="2.1" stroke-dasharray="8.6 6.2"/>
<circle cx="330" cy="528" r="0.8" fill="#aaa"/>
<text x="268.30" y="440.90" font-size="9.2" fill="#2f55ee" stroke="#2f55ee" stroke-width="0.2" textLength="52.80" lengthAdjust="spacingAndGlyphs" >5′–poly(dT)–3′</text>
<text x="338.70" y="440.60" font-size="9.2" fill="#f0502e" stroke="#f0502e" stroke-width="0.2" textLength="52.40" lengthAdjust="spacingAndGlyphs" >5′–poly(dA)–3′</text>
<text x="267.80" y="490.00" font-size="9.2" fill="#f0502e" stroke="#f0502e" stroke-width="0.2" textLength="53.50" lengthAdjust="spacingAndGlyphs" >5′–poly(dA)–3′</text>
<text x="338.70" y="490.70" font-size="9.2" fill="#2f55ee" stroke="#2f55ee" stroke-width="0.2" textLength="52.40" lengthAdjust="spacingAndGlyphs" >5′–poly(dT)–3′</text>
<linearGradient id="gbt" gradientUnits="userSpaceOnUse" x1="0" y1="0" x2="34" y2="0"><stop offset="0" stop-color="#1a2ad0"/><stop offset="0.45" stop-color="#b8c4ff"/><stop offset="0.62" stop-color="#1e3cf0"/><stop offset="1" stop-color="#1e3cf0"/></linearGradient>
<g transform="translate(276.7,446.6)"><path d="M0,0 C0.5,16 29,17 30.8,3.2" fill="none" stroke="url(#gbt)" stroke-width="2.5"/><path d="M31.7,-0.6 L36.2,3.1 L26.3,3.1 Z" fill="#1e3cf0"/></g>
<linearGradient id="grt" gradientUnits="userSpaceOnUse" x1="0" y1="0" x2="34" y2="0"><stop offset="0" stop-color="#c02810"/><stop offset="0.45" stop-color="#ffc8b8"/><stop offset="0.62" stop-color="#ee3a1e"/><stop offset="1" stop-color="#ee3a1e"/></linearGradient>
<g transform="translate(383.0,446.6) scale(-1,1)"><path d="M0,0 C0.5,16 29,17 30.8,3.2" fill="none" stroke="url(#grt)" stroke-width="2.5"/><path d="M31.7,-0.6 L36.2,3.1 L26.3,3.1 Z" fill="#ee3a1e"/></g>
<linearGradient id="grb" gradientUnits="userSpaceOnUse" x1="0" y1="0" x2="34" y2="0"><stop offset="0" stop-color="#c02810"/><stop offset="0.45" stop-color="#ffc8b8"/><stop offset="0.62" stop-color="#ee3a1e"/><stop offset="1" stop-color="#ee3a1e"/></linearGradient>
<g transform="translate(312.8,496.8) scale(-1,1)"><path d="M0,0 C0.5,16 29,17 30.8,3.2" fill="none" stroke="url(#grb)" stroke-width="2.5"/><path d="M31.7,-0.6 L36.2,3.1 L26.3,3.1 Z" fill="#ee3a1e"/></g>
<linearGradient id="gbb" gradientUnits="userSpaceOnUse" x1="0" y1="0" x2="34" y2="0"><stop offset="0" stop-color="#1a2ad0"/><stop offset="0.45" stop-color="#b8c4ff"/><stop offset="0.62" stop-color="#1e3cf0"/><stop offset="1" stop-color="#1e3cf0"/></linearGradient>
<g transform="translate(346.9,496.4)"><path d="M0,0 C0.5,16 29,17 30.8,3.2" fill="none" stroke="url(#gbb)" stroke-width="2.5"/><path d="M31.7,-0.6 L36.2,3.1 L26.3,3.1 Z" fill="#1e3cf0"/></g>
<g stroke="#111" stroke-width="1.4">
<line x1="273.7" y1="477.7" x2="315.4" y2="521"/><line x1="315.4" y1="477.7" x2="273.7" y2="521"/>
<line x1="342.7" y1="477.7" x2="384.3" y2="521.9"/><line x1="384.3" y1="477.7" x2="342.7" y2="521.9"/>
</g>
</svg>
</body></html>
